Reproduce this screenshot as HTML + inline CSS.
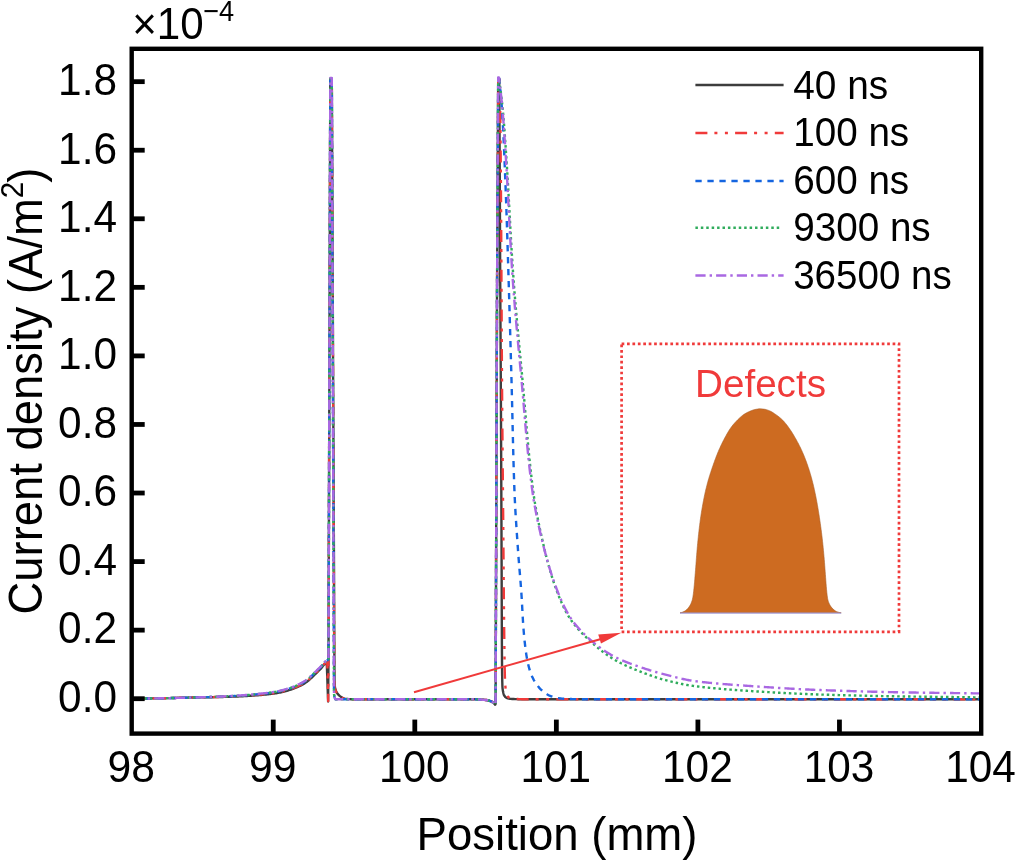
<!DOCTYPE html>
<html lang="en"><head><meta charset="utf-8"><title>Current density vs position</title>
<style>html,body{margin:0;padding:0;background:#fff}svg{display:block;filter:blur(0.45px)}</style></head>
<body>
<svg width="1016" height="862" viewBox="0 0 1016 862" font-family='"Liberation Sans", Arial, Helvetica, sans-serif' fill="#000">
<rect width="1016" height="862" fill="#fff"/>
<defs><clipPath id="pc"><rect x="131.7" y="48.8" width="849.5" height="684.8000000000001"/></clipPath></defs>
<g fill="none" stroke-linejoin="round" clip-path="url(#pc)">
<path d="M133.50,698.60 L134.51,698.59 L135.51,698.59 L136.52,698.58 L137.52,698.57 L138.53,698.57 L139.53,698.56 L140.54,698.55 L141.54,698.54 L142.55,698.53 L143.55,698.52 L144.56,698.51 L145.56,698.50 L146.57,698.49 L147.58,698.47 L148.58,698.46 L149.59,698.45 L150.59,698.44 L151.60,698.42 L152.60,698.41 L153.61,698.39 L154.61,698.38 L155.62,698.37 L156.62,698.35 L157.63,698.34 L158.63,698.32 L159.64,698.31 L160.64,698.29 L161.65,698.27 L162.65,698.25 L163.66,698.23 L164.66,698.21 L165.67,698.19 L166.68,698.17 L167.68,698.14 L168.69,698.12 L169.69,698.09 L170.70,698.06 L171.70,698.04 L172.71,698.01 L173.71,697.98 L174.72,697.95 L175.72,697.92 L176.73,697.89 L177.73,697.86 L178.74,697.83 L179.74,697.81 L180.75,697.78 L181.75,697.75 L182.76,697.72 L183.76,697.69 L184.77,697.67 L185.77,697.64 L186.78,697.61 L187.78,697.59 L188.79,697.57 L189.79,697.54 L190.80,697.52 L191.80,697.50 L192.81,697.49 L193.81,697.47 L194.82,697.45 L195.82,697.43 L196.83,697.42 L197.83,697.40 L198.84,697.39 L199.84,697.38 L200.85,697.36 L201.86,697.35 L202.86,697.33 L203.87,697.32 L204.87,697.31 L205.88,697.29 L206.88,697.28 L207.89,697.26 L208.89,697.25 L209.90,697.23 L210.90,697.21 L211.91,697.19 L212.91,697.18 L213.92,697.16 L214.92,697.13 L215.93,697.11 L216.93,697.09 L217.94,697.07 L218.94,697.05 L219.95,697.02 L220.96,697.00 L221.96,696.97 L222.97,696.95 L223.97,696.92 L224.98,696.90 L225.98,696.87 L226.99,696.84 L227.99,696.81 L229.00,696.78 L230.00,696.74 L231.01,696.71 L232.01,696.68 L233.01,696.64 L234.02,696.61 L235.02,696.57 L236.03,696.53 L237.03,696.48 L238.04,696.44 L239.04,696.39 L240.05,696.34 L241.05,696.29 L242.05,696.24 L243.06,696.18 L244.06,696.13 L245.07,696.07 L246.07,696.01 L247.07,695.95 L248.08,695.89 L249.08,695.82 L250.09,695.76 L251.09,695.69 L252.09,695.62 L253.09,695.55 L254.10,695.48 L255.10,695.41 L256.10,695.34 L257.10,695.26 L258.11,695.18 L259.11,695.10 L260.12,695.02 L261.12,694.94 L262.12,694.85 L263.13,694.76 L264.13,694.67 L265.13,694.57 L266.13,694.47 L267.13,694.37 L268.13,694.26 L269.13,694.15 L270.13,694.03 L271.13,693.91 L272.12,693.79 L273.12,693.66 L274.11,693.53 L275.10,693.39 L276.09,693.23 L277.08,693.06 L278.07,692.87 L279.06,692.67 L280.05,692.46 L281.03,692.24 L282.01,692.01 L282.99,691.77 L283.97,691.53 L284.94,691.29 L285.91,691.03 L286.88,690.77 L287.85,690.49 L288.82,690.20 L289.78,689.90 L290.74,689.59 L291.70,689.27 L292.65,688.94 L293.59,688.59 L294.53,688.24 L295.46,687.88 L296.38,687.50 L297.31,687.10 L298.23,686.69 L299.15,686.26 L300.07,685.82 L300.98,685.36 L301.87,684.88 L302.76,684.40 L303.63,683.89 L304.49,683.38 L305.32,682.85 L306.14,682.30 L306.94,681.73 L307.73,681.12 L308.50,680.49 L309.27,679.84 L310.02,679.17 L310.76,678.48 L311.50,677.79 L312.23,677.08 L312.96,676.37 L313.68,675.65 L314.41,674.94 L315.13,674.23 L315.86,673.53 L316.59,672.84 L317.31,672.14 L318.03,671.44 L318.74,670.73 L319.45,670.01 L320.15,669.29 L320.85,668.57 L321.53,667.83 L322.18,666.99 L322.80,666.12 L323.44,665.29 L324.13,664.58 L324.88,664.05 L325.78,663.72 L326.80,663.50 L328.10,701.50 L328.50,659.00 L330.30,79.50 L331.80,79.50 L334.50,680.00 L334.80,686.00 L334.93,687.12 L335.15,688.20 L335.44,689.24 L335.79,690.24 L336.18,691.19 L336.61,692.11 L337.07,692.98 L337.67,693.85 L338.38,694.68 L339.17,695.45 L340.00,696.13 L340.83,696.72 L341.72,697.29 L342.67,697.83 L343.66,698.30 L344.67,698.64 L345.67,698.82 L346.69,698.93 L347.72,699.02 L348.76,699.09 L349.82,699.15 L350.90,699.19 L352.00,699.20 L352.00,699.20 L353.01,699.20 L354.02,699.20 L355.04,699.20 L356.05,699.20 L357.06,699.20 L358.07,699.20 L359.09,699.20 L360.10,699.20 L361.11,699.20 L362.12,699.20 L363.13,699.20 L364.15,699.20 L365.16,699.20 L366.17,699.20 L367.18,699.20 L368.19,699.20 L369.21,699.20 L370.22,699.20 L371.23,699.20 L372.24,699.20 L373.25,699.20 L374.27,699.20 L375.28,699.20 L376.29,699.20 L377.30,699.20 L378.31,699.20 L379.32,699.20 L380.34,699.20 L381.35,699.20 L382.36,699.20 L383.37,699.20 L384.38,699.20 L385.39,699.20 L386.41,699.20 L387.42,699.20 L388.43,699.20 L389.44,699.20 L390.45,699.20 L391.46,699.20 L392.47,699.20 L393.49,699.20 L394.50,699.20 L395.51,699.20 L396.52,699.20 L397.53,699.20 L398.54,699.20 L399.55,699.20 L400.57,699.20 L401.58,699.20 L402.59,699.20 L403.60,699.20 L404.61,699.20 L405.62,699.20 L406.63,699.20 L407.64,699.20 L408.66,699.20 L409.67,699.20 L410.68,699.20 L411.69,699.20 L412.70,699.20 L413.71,699.20 L414.72,699.20 L415.73,699.20 L416.74,699.20 L417.76,699.20 L418.77,699.20 L419.78,699.20 L420.79,699.20 L421.80,699.20 L422.81,699.20 L423.82,699.20 L424.83,699.20 L425.84,699.20 L426.85,699.20 L427.86,699.20 L428.88,699.20 L429.89,699.20 L430.90,699.20 L431.91,699.20 L432.92,699.20 L433.93,699.20 L434.94,699.20 L435.95,699.20 L436.96,699.20 L437.97,699.20 L438.98,699.20 L439.99,699.20 L441.01,699.20 L442.02,699.20 L443.03,699.20 L444.04,699.20 L445.05,699.20 L446.06,699.20 L447.07,699.20 L448.08,699.20 L449.09,699.20 L450.10,699.20 L451.11,699.20 L452.12,699.20 L453.13,699.20 L454.14,699.20 L455.15,699.20 L456.16,699.20 L457.17,699.20 L458.19,699.20 L459.20,699.20 L460.21,699.20 L461.22,699.20 L462.23,699.20 L463.24,699.20 L464.25,699.20 L465.26,699.20 L466.27,699.20 L467.28,699.20 L468.29,699.20 L469.30,699.20 L470.31,699.20 L471.32,699.21 L472.34,699.22 L473.35,699.24 L474.37,699.26 L475.39,699.30 L476.41,699.33 L477.43,699.38 L478.44,699.43 L479.46,699.49 L480.47,699.55 L481.48,699.62 L482.48,699.69 L483.48,699.77 L484.48,699.86 L485.47,699.95 L486.46,700.05 L487.47,700.23 L488.48,700.47 L489.48,700.77 L490.45,701.12 L491.37,701.50 L492.23,701.92 L493.03,702.46 L493.80,703.12 L494.52,703.88 L495.20,704.70 L495.60,704.00 L497.00,300.00 L498.20,79.00 L499.20,80.00 L499.21,81.00 L499.21,82.01 L499.22,83.01 L499.23,84.01 L499.24,85.01 L499.24,86.02 L499.25,87.02 L499.26,88.02 L499.26,89.02 L499.27,90.03 L499.28,91.03 L499.28,92.03 L499.29,93.03 L499.30,94.04 L499.30,95.04 L499.31,96.04 L499.32,97.04 L499.32,98.05 L499.33,99.05 L499.34,100.05 L499.35,101.05 L499.35,102.06 L499.36,103.06 L499.37,104.06 L499.37,105.06 L499.38,106.07 L499.39,107.07 L499.39,108.07 L499.40,109.07 L499.40,110.08 L499.41,111.08 L499.42,112.08 L499.42,113.08 L499.43,114.09 L499.44,115.09 L499.44,116.09 L499.45,117.09 L499.46,118.10 L499.46,119.10 L499.47,120.10 L499.48,121.10 L499.48,122.11 L499.49,123.11 L499.49,124.11 L499.50,125.11 L499.51,126.12 L499.51,127.12 L499.52,128.12 L499.53,129.12 L499.53,130.13 L499.54,131.13 L499.54,132.13 L499.55,133.13 L499.56,134.14 L499.56,135.14 L499.57,136.14 L499.57,137.14 L499.58,138.15 L499.59,139.15 L499.59,140.15 L499.60,141.15 L499.60,142.16 L499.61,143.16 L499.61,144.16 L499.62,145.16 L499.63,146.17 L499.63,147.17 L499.64,148.17 L499.64,149.17 L499.65,150.18 L499.65,151.18 L499.66,152.18 L499.66,153.18 L499.67,154.19 L499.67,155.19 L499.68,156.19 L499.69,157.19 L499.69,158.20 L499.70,159.20 L499.70,160.20 L499.71,161.20 L499.71,162.21 L499.72,163.21 L499.72,164.21 L499.73,165.21 L499.73,166.22 L499.74,167.22 L499.74,168.22 L499.75,169.22 L499.75,170.23 L499.76,171.23 L499.76,172.23 L499.77,173.23 L499.77,174.24 L499.77,175.24 L499.78,176.24 L499.78,177.24 L499.79,178.25 L499.79,179.25 L499.80,180.25 L499.80,181.25 L499.81,182.26 L499.81,183.26 L499.82,184.26 L499.82,185.26 L499.82,186.27 L499.83,187.27 L499.83,188.27 L499.84,189.27 L499.84,190.28 L499.85,191.28 L499.85,192.28 L499.85,193.28 L499.86,194.29 L499.86,195.29 L499.87,196.29 L499.87,197.29 L499.87,198.30 L499.88,199.30 L499.88,200.30 L499.89,201.30 L499.89,202.31 L499.90,203.31 L499.90,204.31 L499.90,205.31 L499.91,206.32 L499.91,207.32 L499.92,208.32 L499.92,209.32 L499.92,210.33 L499.93,211.33 L499.93,212.33 L499.94,213.33 L499.94,214.34 L499.94,215.34 L499.95,216.34 L499.95,217.34 L499.96,218.35 L499.96,219.35 L499.96,220.35 L499.97,221.35 L499.97,222.36 L499.98,223.36 L499.98,224.36 L499.98,225.36 L499.99,226.37 L499.99,227.37 L500.00,228.37 L500.00,229.37 L500.00,230.38 L500.01,231.38 L500.01,232.38 L500.01,233.39 L500.02,234.39 L500.02,235.39 L500.03,236.39 L500.03,237.40 L500.04,238.40 L500.04,239.40 L500.04,240.40 L500.05,241.41 L500.05,242.41 L500.06,243.41 L500.06,244.41 L500.06,245.42 L500.07,246.42 L500.07,247.42 L500.08,248.42 L500.08,249.43 L500.08,250.43 L500.09,251.43 L500.09,252.43 L500.10,253.44 L500.10,254.44 L500.11,255.44 L500.11,256.44 L500.11,257.45 L500.12,258.45 L500.12,259.45 L500.13,260.45 L500.13,261.46 L500.14,262.46 L500.14,263.46 L500.15,264.46 L500.15,265.47 L500.15,266.47 L500.16,267.47 L500.16,268.47 L500.17,269.48 L500.17,270.48 L500.18,271.48 L500.18,272.48 L500.19,273.49 L500.19,274.49 L500.20,275.49 L500.20,276.49 L500.21,277.50 L500.21,278.50 L500.22,279.50 L500.22,280.50 L500.23,281.51 L500.23,282.51 L500.24,283.51 L500.24,284.51 L500.25,285.52 L500.25,286.52 L500.26,287.52 L500.26,288.52 L500.27,289.53 L500.27,290.53 L500.28,291.53 L500.29,292.53 L500.29,293.54 L500.30,294.54 L500.30,295.54 L500.31,296.54 L500.31,297.55 L500.32,298.55 L500.32,299.55 L500.33,300.55 L500.33,301.56 L500.34,302.56 L500.35,303.56 L500.35,304.56 L500.36,305.57 L500.36,306.57 L500.37,307.57 L500.37,308.57 L500.38,309.58 L500.39,310.58 L500.39,311.58 L500.40,312.58 L500.40,313.59 L500.41,314.59 L500.42,315.59 L500.42,316.59 L500.43,317.60 L500.43,318.60 L500.44,319.60 L500.44,320.60 L500.45,321.61 L500.46,322.61 L500.46,323.61 L500.47,324.61 L500.47,325.62 L500.48,326.62 L500.49,327.62 L500.49,328.62 L500.50,329.63 L500.50,330.63 L500.51,331.63 L500.52,332.63 L500.52,333.64 L500.53,334.64 L500.53,335.64 L500.54,336.64 L500.55,337.65 L500.55,338.65 L500.56,339.65 L500.56,340.65 L500.57,341.66 L500.58,342.66 L500.58,343.66 L500.59,344.66 L500.59,345.67 L500.60,346.67 L500.61,347.67 L500.61,348.67 L500.62,349.68 L500.62,350.68 L500.63,351.68 L500.64,352.68 L500.64,353.69 L500.65,354.69 L500.65,355.69 L500.66,356.69 L500.67,357.70 L500.67,358.70 L500.68,359.70 L500.68,360.70 L500.69,361.71 L500.70,362.71 L500.70,363.71 L500.71,364.71 L500.71,365.72 L500.72,366.72 L500.73,367.72 L500.73,368.72 L500.74,369.73 L500.74,370.73 L500.75,371.73 L500.75,372.74 L500.76,373.74 L500.77,374.74 L500.77,375.74 L500.78,376.75 L500.78,377.75 L500.79,378.75 L500.79,379.75 L500.80,380.76 L500.80,381.76 L500.81,382.76 L500.82,383.76 L500.82,384.77 L500.83,385.77 L500.83,386.77 L500.84,387.77 L500.84,388.78 L500.85,389.78 L500.85,390.78 L500.86,391.78 L500.86,392.79 L500.87,393.79 L500.87,394.79 L500.88,395.79 L500.88,396.80 L500.89,397.80 L500.89,398.80 L500.90,399.80 L500.90,400.81 L500.91,401.81 L500.91,402.81 L500.92,403.81 L500.92,404.82 L500.93,405.82 L500.93,406.82 L500.94,407.82 L500.94,408.83 L500.95,409.83 L500.95,410.83 L500.96,411.83 L500.96,412.84 L500.97,413.84 L500.97,414.84 L500.98,415.84 L500.98,416.85 L500.99,417.85 L500.99,418.85 L501.00,419.85 L501.00,420.86 L501.01,421.86 L501.01,422.86 L501.02,423.86 L501.02,424.87 L501.02,425.87 L501.03,426.87 L501.03,427.87 L501.04,428.88 L501.04,429.88 L501.05,430.88 L501.05,431.88 L501.06,432.89 L501.06,433.89 L501.07,434.89 L501.07,435.89 L501.08,436.90 L501.08,437.90 L501.08,438.90 L501.09,439.90 L501.09,440.91 L501.10,441.91 L501.10,442.91 L501.11,443.91 L501.11,444.92 L501.12,445.92 L501.12,446.92 L501.13,447.92 L501.13,448.93 L501.13,449.93 L501.14,450.93 L501.14,451.93 L501.15,452.94 L501.15,453.94 L501.16,454.94 L501.16,455.94 L501.17,456.95 L501.17,457.95 L501.17,458.95 L501.18,459.95 L501.18,460.96 L501.19,461.96 L501.19,462.96 L501.20,463.96 L501.20,464.97 L501.21,465.97 L501.21,466.97 L501.21,467.97 L501.22,468.98 L501.22,469.98 L501.23,470.98 L501.23,471.98 L501.24,472.99 L501.24,473.99 L501.24,474.99 L501.25,475.99 L501.25,477.00 L501.26,478.00 L501.26,479.00 L501.27,480.00 L501.27,481.01 L501.27,482.01 L501.28,483.01 L501.28,484.01 L501.29,485.02 L501.29,486.02 L501.30,487.02 L501.30,488.02 L501.30,489.03 L501.31,490.03 L501.31,491.03 L501.32,492.03 L501.32,493.04 L501.33,494.04 L501.33,495.04 L501.33,496.04 L501.34,497.05 L501.34,498.05 L501.35,499.05 L501.35,500.06 L501.36,501.06 L501.36,502.06 L501.36,503.06 L501.37,504.07 L501.37,505.07 L501.38,506.07 L501.38,507.07 L501.38,508.08 L501.39,509.08 L501.39,510.08 L501.40,511.08 L501.40,512.09 L501.41,513.09 L501.41,514.09 L501.41,515.09 L501.42,516.10 L501.42,517.10 L501.43,518.10 L501.43,519.10 L501.43,520.11 L501.44,521.11 L501.44,522.11 L501.45,523.11 L501.45,524.12 L501.46,525.12 L501.46,526.12 L501.46,527.12 L501.47,528.13 L501.47,529.13 L501.48,530.13 L501.48,531.13 L501.48,532.14 L501.49,533.14 L501.49,534.14 L501.50,535.14 L501.50,536.15 L501.51,537.15 L501.51,538.15 L501.51,539.15 L501.52,540.16 L501.52,541.16 L501.53,542.16 L501.53,543.16 L501.53,544.17 L501.54,545.17 L501.54,546.17 L501.55,547.17 L501.55,548.18 L501.56,549.18 L501.56,550.18 L501.56,551.18 L501.57,552.19 L501.57,553.19 L501.58,554.19 L501.58,555.19 L501.58,556.20 L501.59,557.20 L501.59,558.20 L501.60,559.20 L501.60,560.21 L501.60,561.21 L501.61,562.21 L501.61,563.21 L501.62,564.22 L501.62,565.22 L501.62,566.22 L501.63,567.22 L501.63,568.23 L501.64,569.23 L501.64,570.23 L501.64,571.23 L501.65,572.24 L501.65,573.24 L501.65,574.24 L501.66,575.24 L501.66,576.25 L501.66,577.25 L501.67,578.25 L501.67,579.25 L501.67,580.26 L501.68,581.26 L501.68,582.26 L501.68,583.26 L501.69,584.27 L501.69,585.27 L501.69,586.27 L501.69,587.27 L501.70,588.28 L501.70,589.28 L501.70,590.28 L501.71,591.29 L501.71,592.29 L501.71,593.29 L501.72,594.29 L501.72,595.30 L501.72,596.30 L501.72,597.30 L501.73,598.30 L501.73,599.31 L501.73,600.31 L501.74,601.31 L501.74,602.31 L501.74,603.32 L501.74,604.32 L501.75,605.32 L501.75,606.32 L501.75,607.33 L501.76,608.33 L501.76,609.33 L501.76,610.33 L501.77,611.34 L501.77,612.34 L501.77,613.34 L501.78,614.34 L501.78,615.35 L501.78,616.35 L501.79,617.35 L501.79,618.35 L501.79,619.36 L501.80,620.36 L501.80,621.36 L501.80,622.36 L501.81,623.37 L501.81,624.37 L501.82,625.37 L501.82,626.37 L501.82,627.38 L501.83,628.38 L501.83,629.38 L501.84,630.38 L501.84,631.39 L501.84,632.39 L501.85,633.39 L501.85,634.39 L501.86,635.40 L501.86,636.40 L501.87,637.40 L501.87,638.40 L501.88,639.41 L501.88,640.41 L501.89,641.41 L501.89,642.41 L501.90,643.42 L501.90,644.42 L501.91,645.42 L501.91,646.42 L501.92,647.43 L501.93,648.43 L501.93,649.43 L501.94,650.43 L501.94,651.44 L501.95,652.44 L501.96,653.44 L501.96,654.44 L501.97,655.45 L501.98,656.45 L501.98,657.45 L501.99,658.45 L502.00,659.46 L502.00,660.46 L502.01,661.46 L502.02,662.47 L502.03,663.47 L502.03,664.47 L502.04,665.48 L502.05,666.48 L502.06,667.49 L502.07,668.49 L502.08,669.49 L502.09,670.50 L502.10,671.50 L502.11,672.51 L502.12,673.51 L502.14,674.52 L502.15,675.52 L502.17,676.52 L502.19,677.52 L502.21,678.53 L502.23,679.53 L502.25,680.53 L502.27,681.53 L502.30,682.53 L502.33,683.53 L502.35,684.53 L502.38,685.52 L502.42,686.52 L502.49,687.53 L502.58,688.55 L502.71,689.58 L502.86,690.59 L503.04,691.59 L503.24,692.56 L503.47,693.50 L503.73,694.42 L504.16,695.39 L504.74,696.34 L505.40,697.13 L506.10,697.65 L506.91,698.02 L507.87,698.34 L508.90,698.60 L509.96,698.79 L510.98,698.90 L511.97,698.96 L512.96,699.01 L513.95,699.06 L514.95,699.10 L515.95,699.14 L516.96,699.16 L517.97,699.18 L518.98,699.20 L520.00,699.20 L979.00,699.20" stroke="#3d3d3d" stroke-width="2.4"/>
<path d="M133.50,698.60 L134.51,698.59 L135.52,698.59 L136.53,698.58 L137.54,698.57 L138.55,698.57 L139.56,698.56 L140.57,698.55 L141.58,698.54 L142.59,698.53 L143.60,698.52 L144.61,698.51 L145.62,698.50 L146.63,698.49 L147.63,698.47 L148.64,698.46 L149.65,698.45 L150.66,698.43 L151.67,698.42 L152.68,698.41 L153.69,698.39 L154.70,698.38 L155.71,698.36 L156.72,698.35 L157.73,698.33 L158.74,698.32 L159.75,698.30 L160.76,698.29 L161.77,698.27 L162.78,698.25 L163.79,698.23 L164.80,698.21 L165.81,698.19 L166.81,698.17 L167.82,698.14 L168.83,698.12 L169.84,698.09 L170.85,698.07 L171.86,698.04 L172.87,698.01 L173.88,697.99 L174.89,697.96 L175.90,697.93 L176.91,697.90 L177.92,697.87 L178.93,697.84 L179.94,697.81 L180.95,697.79 L181.95,697.76 L182.96,697.73 L183.97,697.70 L184.98,697.67 L185.99,697.65 L187.00,697.62 L188.01,697.59 L189.02,697.57 L190.03,697.54 L191.04,697.52 L192.05,697.50 L193.06,697.48 L194.07,697.46 L195.08,697.44 L196.09,697.42 L197.09,697.40 L198.10,697.38 L199.11,697.36 L200.12,697.34 L201.13,697.32 L202.14,697.31 L203.15,697.29 L204.16,697.27 L205.17,697.25 L206.18,697.23 L207.19,697.21 L208.20,697.19 L209.21,697.17 L210.22,697.15 L211.23,697.13 L212.24,697.10 L213.25,697.08 L214.26,697.05 L215.26,697.02 L216.27,697.00 L217.28,696.97 L218.29,696.94 L219.30,696.91 L220.31,696.88 L221.32,696.85 L222.33,696.82 L223.34,696.78 L224.35,696.75 L225.36,696.71 L226.37,696.68 L227.38,696.64 L228.38,696.60 L229.39,696.56 L230.40,696.52 L231.41,696.48 L232.42,696.44 L233.43,696.39 L234.44,696.35 L235.44,696.30 L236.45,696.25 L237.46,696.20 L238.47,696.15 L239.48,696.09 L240.49,696.04 L241.49,695.98 L242.50,695.92 L243.51,695.85 L244.52,695.79 L245.53,695.72 L246.53,695.66 L247.54,695.59 L248.55,695.52 L249.56,695.45 L250.56,695.37 L251.57,695.30 L252.58,695.22 L253.58,695.14 L254.59,695.06 L255.59,694.98 L256.60,694.90 L257.61,694.82 L258.62,694.73 L259.62,694.64 L260.63,694.55 L261.64,694.46 L262.64,694.36 L263.65,694.27 L264.66,694.16 L265.66,694.06 L266.67,693.95 L267.67,693.84 L268.68,693.72 L269.68,693.60 L270.68,693.47 L271.68,693.34 L272.68,693.21 L273.67,693.07 L274.67,692.93 L275.66,692.77 L276.66,692.60 L277.65,692.41 L278.64,692.21 L279.63,691.99 L280.62,691.77 L281.60,691.54 L282.58,691.30 L283.56,691.05 L284.54,690.80 L285.51,690.54 L286.48,690.27 L287.46,689.99 L288.43,689.70 L289.39,689.40 L290.36,689.08 L291.32,688.76 L292.27,688.42 L293.22,688.08 L294.17,687.72 L295.10,687.35 L296.03,686.97 L296.96,686.58 L297.88,686.17 L298.81,685.74 L299.73,685.30 L300.64,684.84 L301.54,684.37 L302.44,683.88 L303.32,683.38 L304.18,682.87 L305.03,682.34 L305.85,681.80 L306.66,681.23 L307.46,680.63 L308.24,680.00 L309.01,679.36 L309.77,678.69 L310.52,678.01 L311.26,677.31 L312.00,676.60 L312.73,675.89 L313.46,675.17 L314.19,674.46 L314.91,673.75 L315.64,673.04 L316.37,672.34 L317.10,671.64 L317.82,670.94 L318.54,670.23 L319.25,669.51 L319.96,668.79 L320.66,668.06 L321.36,667.33 L322.02,666.56 L322.67,665.76 L323.32,664.96 L323.99,664.21 L324.71,663.53 L325.50,662.95 L326.37,662.45 L327.30,662.00 L328.20,701.00 L328.50,659.00 L330.30,79.00 L331.80,79.00 L334.30,680.00 L334.60,686.00 L334.72,687.13 L334.93,688.23 L335.22,689.28 L335.56,690.29 L335.94,691.27 L336.36,692.20 L336.82,693.10 L337.43,694.00 L338.15,694.85 L338.94,695.64 L339.75,696.32 L340.60,696.91 L341.52,697.48 L342.50,698.01 L343.52,698.44 L344.55,698.73 L345.57,698.86 L346.60,698.96 L347.65,699.04 L348.71,699.11 L349.79,699.16 L350.89,699.19 L352.00,699.20 L352.00,699.20 L353.01,699.20 L354.02,699.20 L355.04,699.20 L356.05,699.20 L357.06,699.20 L358.07,699.20 L359.09,699.20 L360.10,699.20 L361.11,699.20 L362.12,699.20 L363.13,699.20 L364.15,699.20 L365.16,699.20 L366.17,699.20 L367.18,699.20 L368.19,699.20 L369.21,699.20 L370.22,699.20 L371.23,699.20 L372.24,699.20 L373.25,699.20 L374.27,699.20 L375.28,699.20 L376.29,699.20 L377.30,699.20 L378.31,699.20 L379.32,699.20 L380.34,699.20 L381.35,699.20 L382.36,699.20 L383.37,699.20 L384.38,699.20 L385.39,699.20 L386.41,699.20 L387.42,699.20 L388.43,699.20 L389.44,699.20 L390.45,699.20 L391.46,699.20 L392.47,699.20 L393.49,699.20 L394.50,699.20 L395.51,699.20 L396.52,699.20 L397.53,699.20 L398.54,699.20 L399.55,699.20 L400.57,699.20 L401.58,699.20 L402.59,699.20 L403.60,699.20 L404.61,699.20 L405.62,699.20 L406.63,699.20 L407.64,699.20 L408.66,699.20 L409.67,699.20 L410.68,699.20 L411.69,699.20 L412.70,699.20 L413.71,699.20 L414.72,699.20 L415.73,699.20 L416.74,699.20 L417.76,699.20 L418.77,699.20 L419.78,699.20 L420.79,699.20 L421.80,699.20 L422.81,699.20 L423.82,699.20 L424.83,699.20 L425.84,699.20 L426.85,699.20 L427.86,699.20 L428.88,699.20 L429.89,699.20 L430.90,699.20 L431.91,699.20 L432.92,699.20 L433.93,699.20 L434.94,699.20 L435.95,699.20 L436.96,699.20 L437.97,699.20 L438.98,699.20 L439.99,699.20 L441.01,699.20 L442.02,699.20 L443.03,699.20 L444.04,699.20 L445.05,699.20 L446.06,699.20 L447.07,699.20 L448.08,699.20 L449.09,699.20 L450.10,699.20 L451.11,699.20 L452.12,699.20 L453.13,699.20 L454.14,699.20 L455.15,699.20 L456.16,699.20 L457.17,699.20 L458.19,699.20 L459.20,699.20 L460.21,699.20 L461.22,699.20 L462.23,699.20 L463.24,699.20 L464.25,699.20 L465.26,699.20 L466.27,699.20 L467.28,699.20 L468.29,699.20 L469.30,699.20 L470.31,699.20 L471.32,699.21 L472.34,699.22 L473.35,699.24 L474.37,699.26 L475.39,699.30 L476.41,699.33 L477.43,699.38 L478.44,699.43 L479.46,699.49 L480.47,699.55 L481.48,699.62 L482.48,699.69 L483.48,699.77 L484.48,699.86 L485.47,699.95 L486.46,700.05 L487.47,700.23 L488.48,700.47 L489.48,700.77 L490.45,701.12 L491.37,701.50 L492.23,701.92 L493.03,702.46 L493.80,703.12 L494.52,703.88 L495.20,704.70 L495.60,704.00 L497.00,300.00 L498.20,78.50 L499.50,79.00 L499.53,80.00 L499.55,81.00 L499.58,82.01 L499.61,83.01 L499.63,84.01 L499.66,85.01 L499.68,86.02 L499.71,87.02 L499.74,88.02 L499.76,89.02 L499.79,90.03 L499.81,91.03 L499.84,92.03 L499.86,93.03 L499.89,94.03 L499.91,95.04 L499.93,96.04 L499.96,97.04 L499.98,98.04 L500.00,99.05 L500.02,100.05 L500.04,101.05 L500.06,102.05 L500.08,103.06 L500.10,104.06 L500.12,105.06 L500.14,106.06 L500.16,107.07 L500.17,108.07 L500.19,109.07 L500.20,110.07 L500.21,111.08 L500.23,112.08 L500.24,113.08 L500.25,114.08 L500.27,115.09 L500.28,116.09 L500.29,117.09 L500.31,118.09 L500.32,119.10 L500.33,120.10 L500.34,121.10 L500.35,122.10 L500.37,123.11 L500.38,124.11 L500.39,125.11 L500.40,126.11 L500.41,127.12 L500.42,128.12 L500.43,129.12 L500.44,130.12 L500.45,131.13 L500.47,132.13 L500.48,133.13 L500.49,134.13 L500.50,135.14 L500.51,136.14 L500.52,137.14 L500.53,138.14 L500.54,139.15 L500.55,140.15 L500.55,141.15 L500.56,142.15 L500.57,143.16 L500.58,144.16 L500.59,145.16 L500.60,146.16 L500.61,147.17 L500.62,148.17 L500.63,149.17 L500.64,150.17 L500.64,151.18 L500.65,152.18 L500.66,153.18 L500.67,154.19 L500.68,155.19 L500.69,156.19 L500.69,157.19 L500.70,158.20 L500.71,159.20 L500.72,160.20 L500.72,161.20 L500.73,162.21 L500.74,163.21 L500.75,164.21 L500.76,165.21 L500.76,166.22 L500.77,167.22 L500.78,168.22 L500.78,169.22 L500.79,170.23 L500.80,171.23 L500.81,172.23 L500.81,173.23 L500.82,174.24 L500.83,175.24 L500.84,176.24 L500.84,177.25 L500.85,178.25 L500.86,179.25 L500.86,180.25 L500.87,181.26 L500.88,182.26 L500.88,183.26 L500.89,184.26 L500.90,185.27 L500.90,186.27 L500.91,187.27 L500.92,188.27 L500.93,189.28 L500.93,190.28 L500.94,191.28 L500.95,192.28 L500.95,193.29 L500.96,194.29 L500.97,195.29 L500.97,196.30 L500.98,197.30 L500.99,198.30 L501.00,199.30 L501.00,200.31 L501.01,201.31 L501.02,202.31 L501.02,203.31 L501.03,204.32 L501.04,205.32 L501.04,206.32 L501.05,207.32 L501.06,208.33 L501.06,209.33 L501.07,210.33 L501.08,211.33 L501.08,212.34 L501.09,213.34 L501.10,214.34 L501.10,215.34 L501.11,216.35 L501.12,217.35 L501.12,218.35 L501.13,219.35 L501.13,220.36 L501.14,221.36 L501.15,222.36 L501.15,223.37 L501.16,224.37 L501.16,225.37 L501.17,226.37 L501.18,227.38 L501.18,228.38 L501.19,229.38 L501.19,230.38 L501.20,231.39 L501.21,232.39 L501.21,233.39 L501.22,234.39 L501.22,235.40 L501.23,236.40 L501.23,237.40 L501.24,238.40 L501.25,239.41 L501.25,240.41 L501.26,241.41 L501.26,242.41 L501.27,243.42 L501.27,244.42 L501.28,245.42 L501.28,246.43 L501.29,247.43 L501.30,248.43 L501.30,249.43 L501.31,250.44 L501.31,251.44 L501.32,252.44 L501.32,253.44 L501.33,254.45 L501.33,255.45 L501.34,256.45 L501.34,257.45 L501.35,258.46 L501.35,259.46 L501.36,260.46 L501.36,261.46 L501.37,262.47 L501.37,263.47 L501.38,264.47 L501.38,265.47 L501.39,266.48 L501.39,267.48 L501.40,268.48 L501.40,269.48 L501.41,270.49 L501.41,271.49 L501.42,272.49 L501.42,273.50 L501.43,274.50 L501.43,275.50 L501.44,276.50 L501.44,277.51 L501.45,278.51 L501.45,279.51 L501.46,280.51 L501.46,281.52 L501.47,282.52 L501.47,283.52 L501.48,284.52 L501.48,285.53 L501.49,286.53 L501.49,287.53 L501.50,288.53 L501.50,289.54 L501.51,290.54 L501.51,291.54 L501.52,292.55 L501.52,293.55 L501.53,294.55 L501.53,295.55 L501.54,296.56 L501.54,297.56 L501.55,298.56 L501.55,299.56 L501.56,300.57 L501.56,301.57 L501.57,302.57 L501.57,303.57 L501.58,304.58 L501.58,305.58 L501.59,306.58 L501.59,307.58 L501.60,308.59 L501.60,309.59 L501.61,310.59 L501.61,311.59 L501.62,312.60 L501.62,313.60 L501.63,314.60 L501.63,315.61 L501.64,316.61 L501.64,317.61 L501.65,318.61 L501.65,319.62 L501.66,320.62 L501.66,321.62 L501.67,322.62 L501.67,323.63 L501.68,324.63 L501.68,325.63 L501.69,326.63 L501.69,327.64 L501.70,328.64 L501.70,329.64 L501.71,330.64 L501.71,331.65 L501.72,332.65 L501.72,333.65 L501.73,334.65 L501.73,335.66 L501.74,336.66 L501.75,337.66 L501.75,338.66 L501.76,339.67 L501.76,340.67 L501.77,341.67 L501.77,342.68 L501.78,343.68 L501.78,344.68 L501.79,345.68 L501.79,346.69 L501.80,347.69 L501.81,348.69 L501.81,349.69 L501.82,350.70 L501.82,351.70 L501.83,352.70 L501.83,353.70 L501.84,354.71 L501.85,355.71 L501.85,356.71 L501.86,357.71 L501.86,358.72 L501.87,359.72 L501.88,360.72 L501.88,361.72 L501.89,362.73 L501.89,363.73 L501.90,364.73 L501.91,365.74 L501.91,366.74 L501.92,367.74 L501.93,368.74 L501.93,369.75 L501.94,370.75 L501.95,371.75 L501.95,372.75 L501.96,373.76 L501.96,374.76 L501.97,375.76 L501.98,376.76 L501.98,377.77 L501.99,378.77 L502.00,379.77 L502.01,380.77 L502.01,381.78 L502.02,382.78 L502.03,383.78 L502.03,384.78 L502.04,385.79 L502.05,386.79 L502.05,387.79 L502.06,388.79 L502.07,389.80 L502.08,390.80 L502.08,391.80 L502.09,392.81 L502.10,393.81 L502.11,394.81 L502.11,395.81 L502.12,396.82 L502.13,397.82 L502.14,398.82 L502.14,399.82 L502.15,400.83 L502.16,401.83 L502.17,402.83 L502.17,403.83 L502.18,404.84 L502.19,405.84 L502.20,406.84 L502.21,407.84 L502.21,408.85 L502.22,409.85 L502.23,410.85 L502.24,411.85 L502.25,412.86 L502.25,413.86 L502.26,414.86 L502.27,415.86 L502.28,416.87 L502.29,417.87 L502.30,418.87 L502.30,419.88 L502.31,420.88 L502.32,421.88 L502.33,422.88 L502.34,423.89 L502.35,424.89 L502.35,425.89 L502.36,426.89 L502.37,427.90 L502.38,428.90 L502.39,429.90 L502.40,430.90 L502.40,431.91 L502.41,432.91 L502.42,433.91 L502.43,434.91 L502.44,435.92 L502.45,436.92 L502.46,437.92 L502.47,438.92 L502.47,439.93 L502.48,440.93 L502.49,441.93 L502.50,442.93 L502.51,443.94 L502.52,444.94 L502.53,445.94 L502.54,446.94 L502.55,447.95 L502.55,448.95 L502.56,449.95 L502.57,450.96 L502.58,451.96 L502.59,452.96 L502.60,453.96 L502.61,454.97 L502.62,455.97 L502.63,456.97 L502.64,457.97 L502.64,458.98 L502.65,459.98 L502.66,460.98 L502.67,461.98 L502.68,462.99 L502.69,463.99 L502.70,464.99 L502.71,465.99 L502.72,467.00 L502.73,468.00 L502.74,469.00 L502.75,470.00 L502.75,471.01 L502.76,472.01 L502.77,473.01 L502.78,474.01 L502.79,475.02 L502.80,476.02 L502.81,477.02 L502.82,478.02 L502.83,479.03 L502.84,480.03 L502.85,481.03 L502.86,482.04 L502.86,483.04 L502.87,484.04 L502.88,485.04 L502.89,486.05 L502.90,487.05 L502.91,488.05 L502.92,489.05 L502.93,490.06 L502.94,491.06 L502.95,492.06 L502.96,493.06 L502.97,494.07 L502.97,495.07 L502.98,496.07 L502.99,497.07 L503.00,498.08 L503.01,499.08 L503.02,500.08 L503.03,501.08 L503.04,502.09 L503.05,503.09 L503.06,504.09 L503.07,505.09 L503.08,506.10 L503.08,507.10 L503.09,508.10 L503.10,509.10 L503.11,510.11 L503.12,511.11 L503.13,512.11 L503.14,513.12 L503.15,514.12 L503.16,515.12 L503.17,516.12 L503.17,517.13 L503.18,518.13 L503.19,519.13 L503.20,520.13 L503.21,521.14 L503.22,522.14 L503.23,523.14 L503.24,524.14 L503.25,525.15 L503.25,526.15 L503.26,527.15 L503.27,528.15 L503.28,529.16 L503.29,530.16 L503.30,531.16 L503.30,532.16 L503.31,533.17 L503.32,534.17 L503.33,535.17 L503.34,536.17 L503.35,537.18 L503.35,538.18 L503.36,539.18 L503.37,540.18 L503.38,541.19 L503.39,542.19 L503.40,543.19 L503.40,544.20 L503.41,545.20 L503.42,546.20 L503.43,547.20 L503.44,548.21 L503.44,549.21 L503.45,550.21 L503.46,551.21 L503.47,552.22 L503.48,553.22 L503.48,554.22 L503.49,555.22 L503.50,556.23 L503.51,557.23 L503.52,558.23 L503.52,559.23 L503.53,560.24 L503.54,561.24 L503.55,562.24 L503.56,563.24 L503.56,564.25 L503.57,565.25 L503.58,566.25 L503.59,567.26 L503.60,568.26 L503.60,569.26 L503.61,570.26 L503.62,571.27 L503.63,572.27 L503.64,573.27 L503.65,574.27 L503.65,575.28 L503.66,576.28 L503.67,577.28 L503.68,578.28 L503.69,579.29 L503.70,580.29 L503.70,581.29 L503.71,582.29 L503.72,583.30 L503.73,584.30 L503.74,585.30 L503.75,586.30 L503.75,587.31 L503.76,588.31 L503.77,589.31 L503.78,590.31 L503.79,591.32 L503.80,592.32 L503.81,593.32 L503.82,594.33 L503.83,595.33 L503.83,596.33 L503.84,597.33 L503.85,598.34 L503.86,599.34 L503.87,600.34 L503.88,601.34 L503.89,602.35 L503.90,603.35 L503.91,604.35 L503.92,605.35 L503.93,606.36 L503.94,607.36 L503.95,608.36 L503.96,609.36 L503.97,610.37 L503.98,611.37 L503.99,612.37 L504.00,613.37 L504.01,614.38 L504.02,615.38 L504.03,616.38 L504.04,617.38 L504.05,618.39 L504.06,619.39 L504.07,620.39 L504.08,621.39 L504.09,622.40 L504.10,623.40 L504.11,624.40 L504.13,625.40 L504.14,626.41 L504.15,627.41 L504.16,628.41 L504.17,629.41 L504.18,630.42 L504.20,631.42 L504.21,632.42 L504.22,633.42 L504.23,634.43 L504.24,635.43 L504.26,636.43 L504.27,637.43 L504.28,638.44 L504.29,639.44 L504.31,640.44 L504.32,641.45 L504.33,642.45 L504.34,643.45 L504.35,644.45 L504.37,645.46 L504.38,646.46 L504.39,647.46 L504.40,648.47 L504.41,649.47 L504.42,650.47 L504.43,651.48 L504.45,652.48 L504.46,653.48 L504.47,654.49 L504.48,655.49 L504.50,656.49 L504.51,657.50 L504.52,658.50 L504.54,659.50 L504.55,660.51 L504.57,661.51 L504.58,662.51 L504.60,663.51 L504.62,664.52 L504.64,665.52 L504.65,666.52 L504.67,667.52 L504.69,668.53 L504.71,669.53 L504.74,670.53 L504.76,671.53 L504.78,672.53 L504.81,673.54 L504.84,674.54 L504.86,675.54 L504.89,676.54 L504.92,677.54 L504.95,678.54 L504.98,679.54 L505.02,680.54 L505.06,681.55 L505.11,682.56 L505.17,683.58 L505.24,684.59 L505.32,685.61 L505.41,686.62 L505.51,687.63 L505.62,688.63 L505.75,689.62 L505.89,690.60 L506.04,691.56 L506.20,692.51 L506.44,693.51 L506.79,694.56 L507.24,695.57 L507.75,696.46 L508.33,697.15 L508.99,697.62 L509.87,698.04 L510.89,698.40 L511.95,698.66 L512.98,698.80 L513.95,698.86 L514.93,698.92 L515.91,698.98 L516.90,699.02 L517.89,699.07 L518.89,699.10 L519.89,699.13 L520.90,699.16 L521.92,699.18 L522.94,699.19 L523.97,699.20 L525.00,699.20 L979.00,699.20" stroke="#f03a3a" stroke-width="2.4" stroke-dasharray="12 7 3 7.5 3 7.2"/>
<path d="M133.50,698.60 L134.51,698.59 L135.52,698.59 L136.53,698.58 L137.53,698.57 L138.54,698.57 L139.55,698.56 L140.56,698.55 L141.57,698.54 L142.58,698.53 L143.59,698.52 L144.59,698.51 L145.60,698.50 L146.61,698.49 L147.62,698.47 L148.63,698.46 L149.64,698.45 L150.65,698.44 L151.65,698.42 L152.66,698.41 L153.67,698.39 L154.68,698.38 L155.69,698.36 L156.70,698.35 L157.70,698.33 L158.71,698.32 L159.72,698.30 L160.73,698.29 L161.74,698.27 L162.75,698.25 L163.75,698.23 L164.76,698.21 L165.77,698.19 L166.78,698.17 L167.79,698.15 L168.80,698.12 L169.80,698.10 L170.81,698.08 L171.82,698.05 L172.83,698.02 L173.84,698.00 L174.85,697.97 L175.85,697.94 L176.86,697.92 L177.87,697.89 L178.88,697.86 L179.89,697.83 L180.89,697.80 L181.90,697.77 L182.91,697.75 L183.92,697.72 L184.93,697.69 L185.94,697.66 L186.94,697.63 L187.95,697.61 L188.96,697.58 L189.97,697.55 L190.98,697.53 L191.98,697.50 L192.99,697.48 L194.00,697.45 L195.01,697.43 L196.02,697.40 L197.03,697.38 L198.03,697.36 L199.04,697.33 L200.05,697.31 L201.06,697.29 L202.07,697.26 L203.08,697.24 L204.08,697.21 L205.09,697.19 L206.10,697.16 L207.11,697.14 L208.12,697.11 L209.13,697.08 L210.13,697.05 L211.14,697.02 L212.15,696.99 L213.16,696.96 L214.17,696.93 L215.17,696.89 L216.18,696.86 L217.19,696.82 L218.20,696.79 L219.21,696.75 L220.21,696.71 L221.22,696.67 L222.23,696.63 L223.24,696.58 L224.24,696.54 L225.25,696.49 L226.26,696.45 L227.27,696.40 L228.27,696.35 L229.28,696.31 L230.29,696.26 L231.30,696.20 L232.30,696.15 L233.31,696.10 L234.32,696.04 L235.32,695.99 L236.33,695.93 L237.34,695.87 L238.34,695.81 L239.35,695.74 L240.36,695.68 L241.36,695.61 L242.37,695.54 L243.38,695.47 L244.38,695.40 L245.39,695.32 L246.40,695.25 L247.40,695.17 L248.41,695.09 L249.41,695.01 L250.42,694.93 L251.42,694.85 L252.43,694.76 L253.43,694.67 L254.44,694.59 L255.44,694.50 L256.44,694.41 L257.45,694.31 L258.46,694.22 L259.46,694.12 L260.47,694.02 L261.47,693.92 L262.48,693.82 L263.48,693.71 L264.49,693.60 L265.49,693.49 L266.49,693.37 L267.50,693.25 L268.50,693.13 L269.50,693.00 L270.50,692.87 L271.49,692.73 L272.49,692.58 L273.48,692.44 L274.48,692.28 L275.47,692.12 L276.46,691.94 L277.45,691.75 L278.44,691.54 L279.42,691.32 L280.41,691.09 L281.39,690.85 L282.37,690.61 L283.35,690.35 L284.32,690.09 L285.29,689.83 L286.26,689.56 L287.23,689.27 L288.20,688.97 L289.16,688.67 L290.12,688.35 L291.08,688.02 L292.03,687.68 L292.98,687.33 L293.92,686.97 L294.85,686.60 L295.78,686.21 L296.70,685.82 L297.63,685.41 L298.55,684.98 L299.47,684.54 L300.38,684.09 L301.29,683.62 L302.18,683.13 L303.06,682.64 L303.93,682.12 L304.78,681.60 L305.61,681.06 L306.42,680.50 L307.22,679.91 L308.01,679.29 L308.78,678.65 L309.54,677.99 L310.29,677.31 L311.04,676.62 L311.77,675.92 L312.51,675.21 L313.24,674.49 L313.96,673.78 L314.69,673.07 L315.42,672.36 L316.14,671.66 L316.87,670.96 L317.60,670.26 L318.31,669.55 L319.03,668.84 L319.74,668.12 L320.44,667.40 L321.14,666.67 L321.82,665.93 L322.49,665.17 L323.15,664.40 L323.81,663.64 L324.50,662.90 L325.21,662.20 L325.95,661.52 L326.72,660.86 L327.50,660.22 L328.30,659.60 L328.50,659.60 L330.30,79.00 L331.80,79.00 L334.00,694.00 L334.30,696.20 L334.65,697.35 L335.00,698.52 L335.40,699.18 L335.88,699.20 L336.38,699.20 L336.89,699.20 L337.42,699.20 L337.97,699.20 L338.52,699.20 L339.10,699.20 L339.69,699.20 L340.29,699.20 L340.91,699.20 L341.54,699.20 L342.18,699.20 L342.84,699.20 L343.51,699.20 L344.20,699.20 L344.90,699.20 L345.61,699.20 L346.34,699.20 L347.08,699.20 L347.83,699.20 L348.59,699.20 L349.37,699.20 L350.15,699.20 L350.95,699.20 L351.77,699.20 L352.59,699.20 L353.42,699.20 L354.27,699.20 L355.12,699.20 L355.99,699.20 L356.87,699.20 L357.76,699.20 L358.65,699.20 L359.56,699.20 L360.48,699.20 L361.41,699.20 L362.34,699.20 L363.29,699.20 L364.25,699.20 L365.21,699.20 L366.19,699.20 L367.17,699.20 L368.16,699.20 L369.16,699.20 L370.16,699.20 L371.18,699.20 L372.20,699.20 L373.23,699.20 L374.27,699.20 L375.31,699.20 L376.37,699.20 L377.43,699.20 L378.49,699.20 L379.56,699.20 L380.64,699.20 L381.72,699.20 L382.81,699.20 L383.91,699.20 L385.01,699.20 L386.12,699.20 L387.23,699.20 L388.35,699.20 L389.47,699.20 L390.60,699.20 L391.73,699.20 L392.86,699.20 L394.00,699.20 L395.15,699.20 L396.29,699.20 L397.45,699.20 L398.60,699.20 L399.76,699.20 L400.92,699.20 L402.08,699.20 L403.25,699.20 L404.42,699.20 L405.59,699.20 L406.76,699.20 L407.94,699.20 L409.11,699.20 L410.29,699.20 L411.47,699.20 L412.65,699.20 L413.84,699.20 L415.02,699.20 L416.20,699.20 L417.39,699.20 L418.57,699.20 L419.76,699.20 L420.94,699.20 L422.13,699.20 L423.31,699.20 L424.50,699.20 L425.68,699.20 L426.87,699.20 L428.05,699.20 L429.23,699.20 L430.41,699.20 L431.58,699.20 L432.76,699.20 L433.93,699.20 L435.10,699.20 L436.27,699.20 L437.44,699.20 L438.60,699.20 L439.77,699.20 L440.92,699.20 L442.08,699.20 L443.23,699.20 L444.38,699.20 L445.52,699.20 L446.66,699.20 L447.80,699.20 L448.93,699.20 L450.06,699.20 L451.18,699.20 L452.30,699.20 L453.41,699.20 L454.52,699.20 L455.62,699.20 L456.72,699.20 L457.81,699.20 L458.89,699.20 L459.97,699.20 L461.05,699.20 L462.11,699.20 L463.17,699.20 L464.22,699.20 L465.27,699.20 L466.31,699.20 L467.34,699.20 L468.36,699.20 L469.38,699.20 L470.39,699.20 L471.40,699.21 L472.41,699.22 L473.42,699.24 L474.44,699.27 L475.45,699.30 L476.47,699.34 L477.48,699.38 L478.50,699.43 L479.51,699.49 L480.52,699.55 L481.52,699.62 L482.52,699.70 L483.52,699.78 L484.52,699.86 L485.50,699.95 L486.49,700.06 L487.50,700.23 L488.50,700.47 L489.50,700.77 L490.47,701.12 L491.38,701.51 L492.24,701.92 L493.04,702.46 L493.80,703.13 L494.52,703.88 L495.20,704.70 L495.60,704.00 L497.00,300.00 L498.20,78.50 L499.30,78.50 L499.40,79.50 L499.49,80.49 L499.59,81.49 L499.69,82.49 L499.78,83.49 L499.88,84.48 L499.97,85.48 L500.07,86.48 L500.16,87.48 L500.26,88.47 L500.35,89.47 L500.44,90.47 L500.54,91.47 L500.63,92.46 L500.72,93.46 L500.80,94.46 L500.89,95.46 L500.98,96.46 L501.06,97.45 L501.15,98.45 L501.23,99.45 L501.31,100.45 L501.39,101.45 L501.47,102.45 L501.54,103.44 L501.62,104.44 L501.69,105.44 L501.76,106.44 L501.83,107.44 L501.90,108.44 L501.96,109.44 L502.03,110.44 L502.09,111.43 L502.15,112.43 L502.21,113.43 L502.27,114.43 L502.33,115.43 L502.39,116.43 L502.45,117.43 L502.51,118.43 L502.57,119.43 L502.62,120.43 L502.68,121.43 L502.73,122.43 L502.79,123.43 L502.84,124.43 L502.90,125.43 L502.95,126.43 L503.01,127.43 L503.06,128.43 L503.11,129.43 L503.16,130.43 L503.21,131.43 L503.26,132.43 L503.31,133.43 L503.36,134.43 L503.41,135.43 L503.46,136.43 L503.51,137.43 L503.56,138.43 L503.61,139.43 L503.65,140.43 L503.70,141.44 L503.75,142.44 L503.79,143.44 L503.84,144.44 L503.88,145.44 L503.93,146.44 L503.97,147.44 L504.02,148.44 L504.06,149.44 L504.11,150.44 L504.15,151.44 L504.19,152.44 L504.24,153.45 L504.28,154.45 L504.32,155.45 L504.36,156.45 L504.40,157.45 L504.45,158.45 L504.49,159.45 L504.53,160.45 L504.57,161.45 L504.61,162.45 L504.65,163.46 L504.69,164.46 L504.73,165.46 L504.77,166.46 L504.81,167.46 L504.85,168.46 L504.89,169.46 L504.93,170.46 L504.97,171.46 L505.01,172.46 L505.05,173.47 L505.09,174.47 L505.13,175.47 L505.17,176.47 L505.21,177.47 L505.25,178.47 L505.29,179.47 L505.32,180.47 L505.36,181.47 L505.40,182.47 L505.44,183.48 L505.48,184.48 L505.52,185.48 L505.56,186.48 L505.60,187.48 L505.63,188.48 L505.67,189.48 L505.71,190.48 L505.75,191.48 L505.78,192.48 L505.82,193.48 L505.86,194.48 L505.90,195.49 L505.93,196.49 L505.97,197.49 L506.01,198.49 L506.04,199.49 L506.08,200.49 L506.11,201.49 L506.15,202.49 L506.19,203.49 L506.22,204.49 L506.26,205.49 L506.29,206.50 L506.33,207.50 L506.36,208.50 L506.40,209.50 L506.43,210.50 L506.46,211.50 L506.50,212.50 L506.53,213.50 L506.57,214.50 L506.60,215.51 L506.63,216.51 L506.67,217.51 L506.70,218.51 L506.73,219.51 L506.77,220.51 L506.80,221.51 L506.83,222.51 L506.87,223.51 L506.90,224.51 L506.93,225.52 L506.96,226.52 L507.00,227.52 L507.03,228.52 L507.06,229.52 L507.09,230.52 L507.12,231.52 L507.16,232.52 L507.19,233.53 L507.22,234.53 L507.25,235.53 L507.28,236.53 L507.31,237.53 L507.35,238.53 L507.38,239.53 L507.41,240.53 L507.44,241.53 L507.47,242.54 L507.50,243.54 L507.53,244.54 L507.56,245.54 L507.60,246.54 L507.63,247.54 L507.66,248.54 L507.69,249.54 L507.72,250.54 L507.75,251.55 L507.78,252.55 L507.81,253.55 L507.84,254.55 L507.87,255.55 L507.90,256.55 L507.93,257.55 L507.97,258.55 L508.00,259.56 L508.03,260.56 L508.06,261.56 L508.09,262.56 L508.12,263.56 L508.15,264.56 L508.18,265.56 L508.21,266.56 L508.24,267.57 L508.27,268.57 L508.30,269.57 L508.33,270.57 L508.36,271.57 L508.39,272.57 L508.43,273.57 L508.46,274.57 L508.49,275.57 L508.52,276.58 L508.55,277.58 L508.58,278.58 L508.61,279.58 L508.64,280.58 L508.67,281.58 L508.70,282.58 L508.73,283.58 L508.76,284.58 L508.79,285.59 L508.82,286.59 L508.85,287.59 L508.88,288.59 L508.91,289.59 L508.94,290.59 L508.97,291.59 L509.00,292.59 L509.03,293.60 L509.06,294.60 L509.09,295.60 L509.12,296.60 L509.15,297.60 L509.18,298.60 L509.21,299.60 L509.24,300.60 L509.27,301.60 L509.30,302.61 L509.33,303.61 L509.36,304.61 L509.39,305.61 L509.42,306.61 L509.45,307.61 L509.48,308.61 L509.51,309.61 L509.54,310.62 L509.57,311.62 L509.60,312.62 L509.62,313.62 L509.65,314.62 L509.68,315.62 L509.71,316.62 L509.74,317.62 L509.77,318.63 L509.80,319.63 L509.83,320.63 L509.86,321.63 L509.89,322.63 L509.91,323.63 L509.94,324.63 L509.97,325.63 L510.00,326.63 L510.03,327.64 L510.06,328.64 L510.09,329.64 L510.11,330.64 L510.14,331.64 L510.17,332.64 L510.20,333.64 L510.23,334.64 L510.26,335.65 L510.29,336.65 L510.31,337.65 L510.34,338.65 L510.37,339.65 L510.40,340.65 L510.43,341.65 L510.46,342.65 L510.48,343.66 L510.51,344.66 L510.54,345.66 L510.57,346.66 L510.60,347.66 L510.63,348.66 L510.65,349.66 L510.68,350.66 L510.71,351.67 L510.74,352.67 L510.77,353.67 L510.79,354.67 L510.82,355.67 L510.85,356.67 L510.88,357.67 L510.91,358.67 L510.93,359.68 L510.96,360.68 L510.99,361.68 L511.02,362.68 L511.05,363.68 L511.07,364.68 L511.10,365.68 L511.13,366.68 L511.16,367.69 L511.19,368.69 L511.21,369.69 L511.24,370.69 L511.27,371.69 L511.30,372.69 L511.32,373.69 L511.35,374.69 L511.38,375.70 L511.41,376.70 L511.44,377.70 L511.46,378.70 L511.49,379.70 L511.52,380.70 L511.55,381.70 L511.57,382.70 L511.60,383.71 L511.63,384.71 L511.65,385.71 L511.68,386.71 L511.71,387.71 L511.73,388.71 L511.76,389.71 L511.78,390.71 L511.81,391.72 L511.84,392.72 L511.86,393.72 L511.89,394.72 L511.91,395.72 L511.93,396.72 L511.96,397.72 L511.98,398.73 L512.01,399.73 L512.03,400.73 L512.06,401.73 L512.08,402.73 L512.10,403.73 L512.13,404.73 L512.15,405.74 L512.17,406.74 L512.20,407.74 L512.22,408.74 L512.24,409.74 L512.27,410.74 L512.29,411.75 L512.31,412.75 L512.34,413.75 L512.36,414.75 L512.38,415.75 L512.40,416.75 L512.43,417.75 L512.45,418.76 L512.47,419.76 L512.50,420.76 L512.52,421.76 L512.54,422.76 L512.56,423.76 L512.59,424.77 L512.61,425.77 L512.63,426.77 L512.66,427.77 L512.68,428.77 L512.70,429.77 L512.73,430.77 L512.75,431.78 L512.77,432.78 L512.80,433.78 L512.82,434.78 L512.84,435.78 L512.87,436.78 L512.89,437.79 L512.91,438.79 L512.94,439.79 L512.96,440.79 L512.99,441.79 L513.01,442.79 L513.03,443.79 L513.06,444.80 L513.08,445.80 L513.11,446.80 L513.13,447.80 L513.16,448.80 L513.18,449.80 L513.21,450.80 L513.24,451.80 L513.26,452.81 L513.29,453.81 L513.31,454.81 L513.34,455.81 L513.37,456.81 L513.40,457.81 L513.42,458.81 L513.45,459.81 L513.48,460.82 L513.51,461.82 L513.53,462.82 L513.56,463.82 L513.59,464.82 L513.62,465.82 L513.65,466.82 L513.68,467.82 L513.71,468.82 L513.74,469.83 L513.77,470.83 L513.80,471.83 L513.83,472.83 L513.86,473.83 L513.90,474.83 L513.93,475.83 L513.96,476.83 L513.99,477.83 L514.03,478.83 L514.06,479.83 L514.09,480.84 L514.13,481.84 L514.16,482.84 L514.20,483.84 L514.23,484.84 L514.27,485.84 L514.31,486.84 L514.34,487.84 L514.38,488.84 L514.42,489.84 L514.46,490.84 L514.49,491.84 L514.53,492.84 L514.57,493.84 L514.61,494.84 L514.66,495.84 L514.70,496.84 L514.75,497.84 L514.79,498.85 L514.84,499.85 L514.89,500.85 L514.94,501.85 L514.99,502.85 L515.04,503.85 L515.09,504.85 L515.14,505.85 L515.19,506.85 L515.25,507.85 L515.30,508.85 L515.36,509.85 L515.42,510.85 L515.47,511.85 L515.53,512.85 L515.59,513.85 L515.65,514.85 L515.71,515.85 L515.77,516.85 L515.83,517.85 L515.90,518.85 L515.96,519.85 L516.02,520.85 L516.09,521.85 L516.15,522.85 L516.22,523.85 L516.28,524.85 L516.35,525.85 L516.41,526.85 L516.48,527.84 L516.55,528.84 L516.61,529.84 L516.68,530.84 L516.75,531.84 L516.82,532.84 L516.88,533.84 L516.95,534.84 L517.02,535.84 L517.09,536.84 L517.16,537.84 L517.23,538.84 L517.30,539.84 L517.37,540.84 L517.44,541.84 L517.50,542.84 L517.57,543.84 L517.64,544.84 L517.71,545.83 L517.78,546.83 L517.85,547.83 L517.92,548.83 L517.99,549.83 L518.06,550.83 L518.13,551.83 L518.20,552.83 L518.27,553.83 L518.35,554.83 L518.42,555.83 L518.50,556.82 L518.58,557.82 L518.65,558.82 L518.73,559.82 L518.81,560.82 L518.89,561.82 L518.97,562.81 L519.06,563.81 L519.14,564.81 L519.22,565.81 L519.30,566.81 L519.39,567.81 L519.47,568.80 L519.55,569.80 L519.64,570.80 L519.72,571.80 L519.80,572.80 L519.89,573.80 L519.97,574.79 L520.05,575.79 L520.13,576.79 L520.22,577.79 L520.30,578.79 L520.38,579.79 L520.46,580.78 L520.54,581.78 L520.62,582.78 L520.70,583.78 L520.77,584.78 L520.85,585.78 L520.93,586.78 L521.00,587.77 L521.07,588.77 L521.14,589.77 L521.22,590.77 L521.28,591.77 L521.35,592.77 L521.42,593.77 L521.48,594.77 L521.55,595.77 L521.61,596.77 L521.67,597.77 L521.73,598.77 L521.78,599.77 L521.84,600.77 L521.90,601.77 L521.95,602.77 L522.01,603.77 L522.06,604.77 L522.12,605.77 L522.17,606.77 L522.22,607.77 L522.28,608.77 L522.33,609.77 L522.38,610.77 L522.44,611.77 L522.49,612.78 L522.55,613.78 L522.60,614.78 L522.66,615.78 L522.71,616.78 L522.77,617.78 L522.83,618.78 L522.89,619.78 L522.95,620.78 L523.02,621.77 L523.08,622.77 L523.15,623.77 L523.21,624.77 L523.28,625.77 L523.35,626.77 L523.43,627.77 L523.50,628.77 L523.58,629.76 L523.66,630.76 L523.74,631.76 L523.83,632.76 L523.91,633.76 L524.00,634.76 L524.09,635.75 L524.18,636.75 L524.28,637.75 L524.37,638.75 L524.47,639.75 L524.57,640.75 L524.68,641.75 L524.79,642.74 L524.90,643.74 L525.01,644.74 L525.12,645.73 L525.24,646.73 L525.37,647.72 L525.49,648.72 L525.62,649.71 L525.75,650.70 L525.89,651.69 L526.03,652.68 L526.18,653.67 L526.32,654.65 L526.48,655.64 L526.64,656.63 L526.81,657.62 L526.99,658.61 L527.18,659.60 L527.37,660.59 L527.58,661.58 L527.79,662.56 L528.01,663.54 L528.24,664.53 L528.47,665.50 L528.72,666.47 L528.97,667.44 L529.24,668.41 L529.51,669.36 L529.79,670.31 L530.08,671.26 L530.39,672.20 L530.73,673.14 L531.09,674.08 L531.46,675.02 L531.86,675.96 L532.28,676.88 L532.72,677.80 L533.17,678.70 L533.63,679.60 L534.11,680.47 L534.60,681.33 L535.11,682.17 L535.63,683.01 L536.19,683.84 L536.77,684.67 L537.38,685.48 L538.01,686.29 L538.66,687.07 L539.33,687.84 L540.02,688.58 L540.72,689.30 L541.43,689.99 L542.16,690.64 L542.90,691.29 L543.68,691.93 L544.48,692.57 L545.31,693.18 L546.16,693.77 L547.02,694.33 L547.89,694.83 L548.78,695.29 L549.67,695.68 L550.57,696.01 L551.50,696.33 L552.44,696.64 L553.39,696.93 L554.37,697.22 L555.35,697.48 L556.34,697.73 L557.34,697.95 L558.34,698.14 L559.34,698.31 L560.34,698.45 L561.34,698.55 L562.33,698.62 L563.32,698.68 L564.31,698.74 L565.31,698.79 L566.30,698.84 L567.30,698.89 L568.30,698.93 L569.30,698.97 L570.31,699.01 L571.31,699.05 L572.32,699.08 L573.32,699.11 L574.33,699.13 L575.33,699.15 L576.34,699.17 L577.34,699.19 L578.35,699.19 L579.35,699.20 L580.35,699.20 L581.35,699.20 L582.35,699.20 L583.36,699.20 L584.36,699.20 L585.36,699.20 L586.36,699.20 L587.36,699.20 L588.36,699.20 L589.36,699.20 L590.36,699.20 L591.37,699.20 L592.37,699.20 L593.37,699.20 L594.37,699.20 L595.37,699.20 L596.37,699.20 L597.37,699.20 L598.37,699.20 L599.38,699.20 L600.38,699.20 L601.38,699.20 L602.38,699.20 L603.38,699.20 L604.38,699.20 L605.38,699.20 L606.39,699.20 L607.39,699.20 L608.39,699.20 L609.39,699.20 L610.39,699.20 L611.39,699.20 L612.39,699.20 L613.39,699.20 L614.40,699.20 L615.40,699.20 L616.40,699.20 L617.40,699.20 L618.40,699.20 L619.40,699.20 L620.40,699.20 L621.40,699.20 L622.41,699.20 L623.41,699.20 L624.41,699.20 L625.41,699.20 L626.41,699.20 L627.41,699.20 L628.41,699.20 L629.42,699.20 L630.42,699.20 L631.42,699.20 L632.42,699.20 L633.42,699.20 L634.42,699.20 L635.42,699.20 L636.42,699.20 L637.43,699.20 L638.43,699.20 L639.43,699.20 L640.43,699.20 L641.43,699.20 L642.43,699.20 L643.43,699.20 L644.44,699.20 L645.44,699.20 L646.44,699.20 L647.44,699.20 L648.44,699.20 L649.44,699.20 L650.44,699.20 L651.44,699.20 L652.45,699.20 L653.45,699.20 L654.45,699.20 L655.45,699.20 L656.45,699.20 L657.45,699.20 L658.45,699.20 L659.46,699.20 L660.46,699.20 L661.46,699.20 L662.46,699.20 L663.46,699.20 L664.46,699.20 L665.46,699.20 L666.47,699.20 L667.47,699.20 L668.47,699.20 L669.47,699.20 L670.47,699.20 L671.47,699.20 L672.47,699.20 L673.47,699.20 L674.48,699.20 L675.48,699.20 L676.48,699.20 L677.48,699.20 L678.48,699.20 L679.48,699.20 L680.48,699.20 L681.49,699.20 L682.49,699.20 L683.49,699.20 L684.49,699.20 L685.49,699.20 L686.49,699.20 L687.49,699.20 L688.50,699.20 L689.50,699.20 L690.50,699.20 L691.50,699.20 L692.50,699.20 L693.50,699.20 L694.50,699.20 L695.51,699.20 L696.51,699.20 L697.51,699.20 L698.51,699.20 L699.51,699.20 L700.51,699.20 L701.51,699.20 L702.52,699.20 L703.52,699.20 L704.52,699.20 L705.52,699.20 L706.52,699.20 L707.52,699.20 L708.52,699.20 L709.53,699.20 L710.53,699.20 L711.53,699.20 L712.53,699.20 L713.53,699.20 L714.53,699.20 L715.53,699.20 L716.54,699.20 L717.54,699.20 L718.54,699.20 L719.54,699.20 L720.54,699.20 L721.54,699.20 L722.54,699.20 L723.55,699.20 L724.55,699.20 L725.55,699.20 L726.55,699.20 L727.55,699.20 L728.55,699.20 L729.55,699.20 L730.56,699.20 L731.56,699.20 L732.56,699.20 L733.56,699.20 L734.56,699.20 L735.56,699.20 L736.57,699.20 L737.57,699.20 L738.57,699.20 L739.57,699.20 L740.57,699.20 L741.57,699.20 L742.57,699.20 L743.58,699.20 L744.58,699.20 L745.58,699.20 L746.58,699.20 L747.58,699.20 L748.58,699.20 L749.58,699.20 L750.59,699.20 L751.59,699.20 L752.59,699.20 L753.59,699.20 L754.59,699.20 L755.59,699.20 L756.60,699.20 L757.60,699.20 L758.60,699.20 L759.60,699.20 L760.60,699.20 L761.60,699.20 L762.60,699.20 L763.61,699.20 L764.61,699.20 L765.61,699.20 L766.61,699.20 L767.61,699.20 L768.61,699.20 L769.62,699.20 L770.62,699.20 L771.62,699.20 L772.62,699.20 L773.62,699.20 L774.62,699.20 L775.63,699.20 L776.63,699.20 L777.63,699.20 L778.63,699.20 L779.63,699.20 L780.63,699.20 L781.63,699.20 L782.64,699.20 L783.64,699.20 L784.64,699.20 L785.64,699.20 L786.64,699.20 L787.64,699.20 L788.65,699.20 L789.65,699.20 L790.65,699.20 L791.65,699.20 L792.65,699.20 L793.65,699.20 L794.66,699.20 L795.66,699.20 L796.66,699.20 L797.66,699.20 L798.66,699.20 L799.66,699.20 L800.67,699.20 L801.67,699.20 L802.67,699.20 L803.67,699.20 L804.67,699.20 L805.67,699.20 L806.68,699.20 L807.68,699.20 L808.68,699.20 L809.68,699.20 L810.68,699.20 L811.68,699.20 L812.69,699.20 L813.69,699.20 L814.69,699.20 L815.69,699.20 L816.69,699.20 L817.69,699.20 L818.70,699.20 L819.70,699.20 L820.70,699.20 L821.70,699.20 L822.70,699.20 L823.70,699.20 L824.71,699.20 L825.71,699.20 L826.71,699.20 L827.71,699.20 L828.71,699.20 L829.71,699.20 L830.72,699.20 L831.72,699.20 L832.72,699.20 L833.72,699.20 L834.72,699.20 L835.72,699.20 L836.73,699.20 L837.73,699.20 L838.73,699.20 L839.73,699.20 L840.73,699.20 L841.73,699.20 L842.74,699.20 L843.74,699.20 L844.74,699.20 L845.74,699.20 L846.74,699.20 L847.74,699.20 L848.75,699.20 L849.75,699.20 L850.75,699.20 L851.75,699.20 L852.75,699.20 L853.76,699.20 L854.76,699.20 L855.76,699.20 L856.76,699.20 L857.76,699.20 L858.76,699.20 L859.77,699.20 L860.77,699.20 L861.77,699.20 L862.77,699.20 L863.77,699.20 L864.78,699.20 L865.78,699.20 L866.78,699.20 L867.78,699.20 L868.78,699.20 L869.78,699.20 L870.79,699.20 L871.79,699.20 L872.79,699.20 L873.79,699.20 L874.79,699.20 L875.80,699.20 L876.80,699.20 L877.80,699.20 L878.80,699.20 L879.80,699.20 L880.80,699.20 L881.81,699.20 L882.81,699.20 L883.81,699.20 L884.81,699.20 L885.81,699.20 L886.82,699.20 L887.82,699.20 L888.82,699.20 L889.82,699.20 L890.82,699.20 L891.82,699.20 L892.83,699.20 L893.83,699.20 L894.83,699.20 L895.83,699.20 L896.83,699.20 L897.84,699.20 L898.84,699.20 L899.84,699.20 L900.84,699.20 L901.84,699.20 L902.85,699.20 L903.85,699.20 L904.85,699.20 L905.85,699.20 L906.85,699.20 L907.86,699.20 L908.86,699.20 L909.86,699.20 L910.86,699.20 L911.86,699.20 L912.86,699.20 L913.87,699.20 L914.87,699.20 L915.87,699.20 L916.87,699.20 L917.87,699.20 L918.88,699.20 L919.88,699.20 L920.88,699.20 L921.88,699.20 L922.88,699.20 L923.89,699.20 L924.89,699.20 L925.89,699.20 L926.89,699.20 L927.89,699.20 L928.90,699.20 L929.90,699.20 L930.90,699.20 L931.90,699.20 L932.90,699.20 L933.91,699.20 L934.91,699.20 L935.91,699.20 L936.91,699.20 L937.91,699.20 L938.92,699.20 L939.92,699.20 L940.92,699.20 L941.92,699.20 L942.92,699.20 L943.93,699.20 L944.93,699.20 L945.93,699.20 L946.93,699.20 L947.93,699.20 L948.94,699.20 L949.94,699.20 L950.94,699.20 L951.94,699.20 L952.95,699.20 L953.95,699.20 L954.95,699.20 L955.95,699.20 L956.95,699.20 L957.96,699.20 L958.96,699.20 L959.96,699.20 L960.96,699.20 L961.96,699.20 L962.97,699.20 L963.97,699.20 L964.97,699.20 L965.97,699.20 L966.97,699.20 L967.98,699.20 L968.98,699.20 L969.98,699.20 L970.98,699.20 L971.98,699.20 L972.99,699.20 L973.99,699.20 L974.99,699.20 L975.99,699.20 L977.00,699.20 L978.00,699.20 L979.00,699.20" stroke="#1565e0" stroke-width="2.4" stroke-dasharray="6.3 5.7"/>
<path d="M133.50,698.60 L134.51,698.59 L135.52,698.59 L136.53,698.58 L137.54,698.57 L138.54,698.57 L139.55,698.56 L140.56,698.55 L141.57,698.54 L142.58,698.53 L143.59,698.52 L144.60,698.51 L145.60,698.50 L146.61,698.49 L147.62,698.47 L148.63,698.46 L149.64,698.45 L150.65,698.44 L151.66,698.42 L152.67,698.41 L153.67,698.39 L154.68,698.38 L155.69,698.36 L156.70,698.35 L157.71,698.33 L158.72,698.32 L159.73,698.30 L160.73,698.29 L161.74,698.27 L162.75,698.25 L163.76,698.23 L164.77,698.21 L165.78,698.19 L166.79,698.17 L167.79,698.15 L168.80,698.13 L169.81,698.10 L170.82,698.08 L171.83,698.05 L172.84,698.03 L173.84,698.00 L174.85,697.97 L175.86,697.95 L176.87,697.92 L177.88,697.89 L178.89,697.86 L179.89,697.84 L180.90,697.81 L181.91,697.78 L182.92,697.75 L183.93,697.72 L184.94,697.69 L185.95,697.66 L186.95,697.64 L187.96,697.61 L188.97,697.58 L189.98,697.55 L190.99,697.53 L192.00,697.50 L193.00,697.47 L194.01,697.45 L195.02,697.42 L196.03,697.40 L197.04,697.37 L198.05,697.35 L199.05,697.32 L200.06,697.30 L201.07,697.27 L202.08,697.25 L203.09,697.22 L204.10,697.19 L205.11,697.17 L206.11,697.14 L207.12,697.11 L208.13,697.08 L209.14,697.05 L210.15,697.02 L211.16,696.99 L212.16,696.96 L213.17,696.92 L214.18,696.89 L215.19,696.85 L216.20,696.81 L217.20,696.77 L218.21,696.73 L219.22,696.69 L220.23,696.65 L221.24,696.61 L222.24,696.56 L223.25,696.52 L224.26,696.47 L225.27,696.42 L226.27,696.37 L227.28,696.32 L228.29,696.27 L229.30,696.22 L230.30,696.16 L231.31,696.11 L232.32,696.05 L233.33,696.00 L234.33,695.94 L235.34,695.88 L236.35,695.82 L237.35,695.76 L238.36,695.69 L239.37,695.62 L240.37,695.56 L241.38,695.49 L242.39,695.41 L243.39,695.34 L244.40,695.26 L245.40,695.19 L246.41,695.11 L247.42,695.03 L248.42,694.95 L249.43,694.86 L250.43,694.78 L251.44,694.69 L252.44,694.60 L253.45,694.51 L254.45,694.42 L255.45,694.33 L256.46,694.23 L257.46,694.14 L258.47,694.04 L259.48,693.94 L260.48,693.84 L261.49,693.74 L262.49,693.63 L263.50,693.52 L264.50,693.41 L265.50,693.29 L266.51,693.17 L267.51,693.05 L268.51,692.92 L269.51,692.79 L270.51,692.65 L271.50,692.51 L272.50,692.37 L273.49,692.21 L274.49,692.06 L275.48,691.89 L276.47,691.71 L277.46,691.51 L278.45,691.31 L279.43,691.08 L280.42,690.85 L281.40,690.61 L282.38,690.36 L283.36,690.10 L284.33,689.84 L285.30,689.57 L286.27,689.30 L287.24,689.01 L288.20,688.71 L289.17,688.40 L290.13,688.08 L291.08,687.74 L292.03,687.40 L292.98,687.05 L293.92,686.69 L294.85,686.31 L295.78,685.93 L296.70,685.53 L297.63,685.12 L298.55,684.69 L299.47,684.25 L300.38,683.79 L301.28,683.32 L302.18,682.84 L303.06,682.34 L303.93,681.83 L304.78,681.30 L305.61,680.76 L306.42,680.20 L307.22,679.61 L308.00,678.99 L308.77,678.35 L309.54,677.69 L310.29,677.01 L311.03,676.32 L311.77,675.62 L312.50,674.91 L313.23,674.19 L313.96,673.48 L314.69,672.77 L315.41,672.06 L316.14,671.36 L316.87,670.67 L317.59,669.96 L318.31,669.25 L319.03,668.54 L319.73,667.82 L320.44,667.10 L321.13,666.37 L321.82,665.63 L322.48,664.87 L323.14,664.10 L323.81,663.34 L324.50,662.60 L325.21,661.90 L325.95,661.22 L326.72,660.56 L327.50,659.92 L328.30,659.30 L328.50,659.30 L330.30,78.50 L331.80,78.50 L334.00,694.00 L334.30,696.20 L334.65,697.35 L335.00,698.52 L335.40,699.18 L335.88,699.20 L336.38,699.20 L336.89,699.20 L337.42,699.20 L337.97,699.20 L338.52,699.20 L339.10,699.20 L339.69,699.20 L340.29,699.20 L340.91,699.20 L341.54,699.20 L342.18,699.20 L342.84,699.20 L343.51,699.20 L344.20,699.20 L344.90,699.20 L345.61,699.20 L346.34,699.20 L347.08,699.20 L347.83,699.20 L348.59,699.20 L349.37,699.20 L350.15,699.20 L350.95,699.20 L351.77,699.20 L352.59,699.20 L353.42,699.20 L354.27,699.20 L355.12,699.20 L355.99,699.20 L356.87,699.20 L357.76,699.20 L358.65,699.20 L359.56,699.20 L360.48,699.20 L361.41,699.20 L362.34,699.20 L363.29,699.20 L364.25,699.20 L365.21,699.20 L366.19,699.20 L367.17,699.20 L368.16,699.20 L369.16,699.20 L370.16,699.20 L371.18,699.20 L372.20,699.20 L373.23,699.20 L374.27,699.20 L375.31,699.20 L376.37,699.20 L377.43,699.20 L378.49,699.20 L379.56,699.20 L380.64,699.20 L381.72,699.20 L382.81,699.20 L383.91,699.20 L385.01,699.20 L386.12,699.20 L387.23,699.20 L388.35,699.20 L389.47,699.20 L390.60,699.20 L391.73,699.20 L392.86,699.20 L394.00,699.20 L395.15,699.20 L396.29,699.20 L397.45,699.20 L398.60,699.20 L399.76,699.20 L400.92,699.20 L402.08,699.20 L403.25,699.20 L404.42,699.20 L405.59,699.20 L406.76,699.20 L407.94,699.20 L409.11,699.20 L410.29,699.20 L411.47,699.20 L412.65,699.20 L413.84,699.20 L415.02,699.20 L416.20,699.20 L417.39,699.20 L418.57,699.20 L419.76,699.20 L420.94,699.20 L422.13,699.20 L423.31,699.20 L424.50,699.20 L425.68,699.20 L426.87,699.20 L428.05,699.20 L429.23,699.20 L430.41,699.20 L431.58,699.20 L432.76,699.20 L433.93,699.20 L435.10,699.20 L436.27,699.20 L437.44,699.20 L438.60,699.20 L439.77,699.20 L440.92,699.20 L442.08,699.20 L443.23,699.20 L444.38,699.20 L445.52,699.20 L446.66,699.20 L447.80,699.20 L448.93,699.20 L450.06,699.20 L451.18,699.20 L452.30,699.20 L453.41,699.20 L454.52,699.20 L455.62,699.20 L456.72,699.20 L457.81,699.20 L458.89,699.20 L459.97,699.20 L461.05,699.20 L462.11,699.20 L463.17,699.20 L464.22,699.20 L465.27,699.20 L466.31,699.20 L467.34,699.20 L468.36,699.20 L469.38,699.20 L470.39,699.20 L471.40,699.21 L472.41,699.22 L473.42,699.24 L474.44,699.27 L475.45,699.30 L476.47,699.34 L477.48,699.38 L478.50,699.43 L479.51,699.49 L480.52,699.55 L481.52,699.62 L482.52,699.70 L483.52,699.78 L484.52,699.86 L485.50,699.95 L486.49,700.06 L487.50,700.23 L488.50,700.47 L489.50,700.77 L490.47,701.12 L491.38,701.51 L492.24,701.92 L493.04,702.46 L493.80,703.13 L494.52,703.88 L495.20,704.70 L495.60,704.00 L497.00,300.00 L498.20,78.00 L498.90,78.00 L499.04,78.99 L499.18,79.98 L499.32,80.98 L499.45,81.97 L499.59,82.96 L499.73,83.95 L499.86,84.95 L499.99,85.94 L500.13,86.93 L500.26,87.93 L500.39,88.92 L500.52,89.91 L500.65,90.91 L500.77,91.90 L500.90,92.89 L501.02,93.89 L501.15,94.88 L501.27,95.87 L501.39,96.87 L501.51,97.86 L501.62,98.86 L501.74,99.85 L501.85,100.85 L501.96,101.84 L502.07,102.84 L502.18,103.83 L502.28,104.83 L502.39,105.82 L502.49,106.82 L502.59,107.81 L502.69,108.81 L502.78,109.80 L502.87,110.80 L502.97,111.80 L503.06,112.79 L503.15,113.79 L503.23,114.79 L503.32,115.78 L503.41,116.78 L503.49,117.78 L503.58,118.77 L503.66,119.77 L503.74,120.77 L503.82,121.77 L503.90,122.77 L503.98,123.76 L504.06,124.76 L504.14,125.76 L504.21,126.76 L504.29,127.76 L504.37,128.76 L504.44,129.75 L504.51,130.75 L504.59,131.75 L504.66,132.75 L504.73,133.75 L504.80,134.75 L504.87,135.75 L504.94,136.75 L505.01,137.75 L505.08,138.74 L505.15,139.74 L505.22,140.74 L505.29,141.74 L505.36,142.74 L505.42,143.74 L505.49,144.74 L505.56,145.74 L505.62,146.74 L505.69,147.74 L505.76,148.74 L505.82,149.74 L505.89,150.74 L505.95,151.74 L506.02,152.74 L506.09,153.73 L506.15,154.73 L506.22,155.73 L506.28,156.73 L506.35,157.73 L506.42,158.73 L506.48,159.73 L506.55,160.73 L506.61,161.73 L506.68,162.73 L506.74,163.73 L506.81,164.72 L506.87,165.72 L506.94,166.72 L507.00,167.72 L507.06,168.72 L507.12,169.72 L507.19,170.72 L507.25,171.72 L507.31,172.72 L507.37,173.72 L507.43,174.72 L507.49,175.72 L507.55,176.72 L507.61,177.72 L507.67,178.72 L507.73,179.72 L507.79,180.71 L507.84,181.71 L507.90,182.71 L507.96,183.71 L508.02,184.71 L508.08,185.71 L508.13,186.71 L508.19,187.71 L508.25,188.71 L508.30,189.71 L508.36,190.71 L508.41,191.71 L508.47,192.71 L508.52,193.71 L508.58,194.71 L508.63,195.71 L508.69,196.71 L508.74,197.71 L508.80,198.71 L508.85,199.71 L508.91,200.71 L508.96,201.71 L509.02,202.71 L509.07,203.71 L509.12,204.71 L509.18,205.71 L509.23,206.71 L509.29,207.71 L509.34,208.71 L509.39,209.71 L509.45,210.71 L509.50,211.71 L509.55,212.71 L509.61,213.71 L509.66,214.71 L509.71,215.71 L509.77,216.71 L509.82,217.71 L509.88,218.71 L509.93,219.71 L509.98,220.71 L510.04,221.71 L510.09,222.71 L510.14,223.71 L510.20,224.71 L510.25,225.71 L510.31,226.71 L510.36,227.71 L510.42,228.71 L510.47,229.71 L510.52,230.71 L510.58,231.71 L510.63,232.71 L510.69,233.71 L510.75,234.71 L510.80,235.71 L510.86,236.71 L510.91,237.71 L510.97,238.71 L511.03,239.71 L511.08,240.71 L511.14,241.71 L511.20,242.71 L511.25,243.71 L511.31,244.70 L511.37,245.70 L511.43,246.70 L511.49,247.70 L511.54,248.70 L511.60,249.70 L511.66,250.70 L511.72,251.70 L511.78,252.70 L511.84,253.70 L511.90,254.70 L511.96,255.70 L512.03,256.70 L512.09,257.70 L512.15,258.70 L512.21,259.69 L512.28,260.69 L512.34,261.69 L512.40,262.69 L512.47,263.69 L512.53,264.69 L512.60,265.69 L512.66,266.69 L512.73,267.69 L512.80,268.69 L512.86,269.68 L512.93,270.68 L513.00,271.68 L513.07,272.68 L513.14,273.68 L513.21,274.68 L513.28,275.68 L513.35,276.67 L513.42,277.67 L513.49,278.67 L513.56,279.67 L513.64,280.67 L513.71,281.67 L513.78,282.66 L513.86,283.66 L513.93,284.66 L514.01,285.66 L514.09,286.66 L514.16,287.65 L514.24,288.65 L514.32,289.65 L514.40,290.65 L514.48,291.65 L514.56,292.64 L514.64,293.64 L514.72,294.64 L514.80,295.64 L514.88,296.64 L514.96,297.63 L515.04,298.63 L515.13,299.63 L515.21,300.63 L515.29,301.62 L515.38,302.62 L515.46,303.62 L515.54,304.62 L515.63,305.61 L515.71,306.61 L515.80,307.61 L515.89,308.61 L515.97,309.61 L516.06,310.60 L516.15,311.60 L516.23,312.60 L516.32,313.59 L516.41,314.59 L516.50,315.59 L516.59,316.59 L516.68,317.58 L516.77,318.58 L516.85,319.58 L516.94,320.58 L517.03,321.57 L517.13,322.57 L517.22,323.57 L517.31,324.57 L517.40,325.56 L517.49,326.56 L517.58,327.56 L517.67,328.55 L517.76,329.55 L517.86,330.55 L517.95,331.55 L518.04,332.54 L518.13,333.54 L518.23,334.54 L518.32,335.53 L518.41,336.53 L518.51,337.53 L518.60,338.53 L518.69,339.52 L518.79,340.52 L518.88,341.52 L518.97,342.51 L519.07,343.51 L519.16,344.51 L519.26,345.50 L519.35,346.50 L519.44,347.50 L519.54,348.50 L519.63,349.49 L519.73,350.49 L519.82,351.49 L519.92,352.48 L520.01,353.48 L520.10,354.48 L520.20,355.47 L520.29,356.47 L520.39,357.47 L520.48,358.47 L520.58,359.46 L520.67,360.46 L520.76,361.46 L520.86,362.45 L520.95,363.45 L521.05,364.45 L521.14,365.44 L521.23,366.44 L521.33,367.44 L521.42,368.43 L521.52,369.43 L521.61,370.43 L521.70,371.43 L521.80,372.42 L521.89,373.42 L521.98,374.42 L522.08,375.41 L522.17,376.41 L522.26,377.41 L522.35,378.40 L522.44,379.40 L522.54,380.40 L522.63,381.40 L522.72,382.39 L522.81,383.39 L522.90,384.39 L522.99,385.38 L523.08,386.38 L523.17,387.38 L523.26,388.38 L523.34,389.38 L523.43,390.37 L523.52,391.37 L523.61,392.37 L523.69,393.37 L523.78,394.37 L523.87,395.36 L523.95,396.36 L524.04,397.36 L524.12,398.36 L524.21,399.36 L524.29,400.36 L524.38,401.36 L524.46,402.36 L524.55,403.35 L524.63,404.35 L524.72,405.35 L524.80,406.35 L524.89,407.35 L524.97,408.35 L525.05,409.35 L525.14,410.35 L525.22,411.35 L525.31,412.34 L525.39,413.34 L525.47,414.34 L525.56,415.34 L525.64,416.34 L525.72,417.34 L525.81,418.34 L525.89,419.34 L525.98,420.34 L526.06,421.34 L526.15,422.34 L526.23,423.33 L526.32,424.33 L526.40,425.33 L526.49,426.33 L526.57,427.33 L526.66,428.33 L526.74,429.33 L526.83,430.33 L526.92,431.33 L527.00,432.32 L527.09,433.32 L527.18,434.32 L527.26,435.32 L527.35,436.32 L527.44,437.32 L527.53,438.31 L527.62,439.31 L527.71,440.31 L527.80,441.31 L527.89,442.31 L527.98,443.30 L528.07,444.30 L528.16,445.30 L528.25,446.30 L528.35,447.29 L528.44,448.29 L528.53,449.29 L528.63,450.29 L528.72,451.28 L528.82,452.28 L528.92,453.28 L529.01,454.27 L529.11,455.27 L529.21,456.27 L529.31,457.26 L529.41,458.26 L529.51,459.25 L529.61,460.25 L529.71,461.25 L529.81,462.24 L529.91,463.24 L530.02,464.23 L530.12,465.23 L530.23,466.22 L530.33,467.22 L530.44,468.21 L530.55,469.21 L530.66,470.20 L530.77,471.19 L530.88,472.19 L530.99,473.18 L531.10,474.17 L531.22,475.17 L531.33,476.16 L531.45,477.15 L531.56,478.15 L531.68,479.14 L531.80,480.13 L531.92,481.12 L532.04,482.11 L532.16,483.11 L532.28,484.10 L532.41,485.09 L532.53,486.08 L532.66,487.07 L532.78,488.06 L532.91,489.05 L533.04,490.04 L533.17,491.03 L533.30,492.02 L533.44,493.01 L533.57,494.00 L533.71,494.99 L533.86,495.98 L534.00,496.97 L534.15,497.95 L534.30,498.94 L534.45,499.93 L534.61,500.92 L534.77,501.91 L534.93,502.90 L535.09,503.88 L535.26,504.87 L535.42,505.86 L535.60,506.85 L535.77,507.83 L535.94,508.82 L536.12,509.81 L536.30,510.79 L536.48,511.78 L536.66,512.77 L536.85,513.75 L537.03,514.74 L537.22,515.72 L537.41,516.71 L537.61,517.69 L537.80,518.68 L538.00,519.66 L538.19,520.64 L538.39,521.63 L538.59,522.61 L538.79,523.59 L539.00,524.57 L539.20,525.56 L539.41,526.54 L539.62,527.52 L539.82,528.50 L540.03,529.48 L540.24,530.46 L540.46,531.44 L540.67,532.42 L540.88,533.40 L541.10,534.38 L541.31,535.35 L541.53,536.33 L541.75,537.31 L541.96,538.28 L542.18,539.26 L542.40,540.23 L542.62,541.21 L542.84,542.18 L543.06,543.16 L543.29,544.13 L543.51,545.11 L543.74,546.08 L543.96,547.06 L544.19,548.04 L544.42,549.01 L544.66,549.99 L544.89,550.96 L545.13,551.94 L545.37,552.91 L545.61,553.89 L545.85,554.86 L546.09,555.84 L546.34,556.81 L546.59,557.79 L546.84,558.76 L547.09,559.73 L547.35,560.71 L547.60,561.68 L547.86,562.65 L548.12,563.62 L548.39,564.59 L548.65,565.56 L548.92,566.52 L549.20,567.49 L549.47,568.46 L549.75,569.42 L550.02,570.38 L550.31,571.35 L550.59,572.31 L550.88,573.27 L551.17,574.22 L551.46,575.18 L551.76,576.13 L552.06,577.09 L552.36,578.04 L552.66,578.99 L552.97,579.94 L553.28,580.89 L553.59,581.83 L553.91,582.77 L554.23,583.71 L554.55,584.65 L554.88,585.59 L555.21,586.53 L555.55,587.48 L555.88,588.42 L556.23,589.37 L556.57,590.31 L556.93,591.26 L557.28,592.21 L557.64,593.15 L558.01,594.10 L558.38,595.05 L558.75,595.99 L559.13,596.93 L559.51,597.87 L559.90,598.81 L560.30,599.75 L560.70,600.68 L561.10,601.61 L561.51,602.54 L561.92,603.47 L562.34,604.39 L562.77,605.30 L563.20,606.21 L563.63,607.12 L564.07,608.02 L564.52,608.92 L564.97,609.81 L565.43,610.69 L565.90,611.57 L566.37,612.44 L566.84,613.30 L567.32,614.16 L567.81,615.01 L568.31,615.85 L568.81,616.69 L569.32,617.51 L569.84,618.33 L570.38,619.15 L570.93,619.96 L571.50,620.77 L572.08,621.57 L572.67,622.37 L573.28,623.17 L573.90,623.96 L574.52,624.75 L575.16,625.53 L575.81,626.31 L576.46,627.08 L577.13,627.85 L577.80,628.61 L578.48,629.37 L579.17,630.12 L579.86,630.87 L580.56,631.61 L581.26,632.35 L581.97,633.08 L582.68,633.80 L583.39,634.53 L584.11,635.24 L584.82,635.95 L585.54,636.66 L586.26,637.36 L586.98,638.05 L587.70,638.74 L588.42,639.42 L589.13,640.10 L589.86,640.78 L590.59,641.45 L591.32,642.13 L592.06,642.80 L592.81,643.47 L593.56,644.14 L594.31,644.80 L595.07,645.46 L595.84,646.12 L596.61,646.78 L597.38,647.43 L598.16,648.07 L598.94,648.72 L599.73,649.35 L600.52,649.99 L601.32,650.62 L602.12,651.24 L602.92,651.85 L603.73,652.46 L604.54,653.07 L605.35,653.66 L606.17,654.26 L606.99,654.84 L607.81,655.41 L608.64,655.98 L609.47,656.54 L610.30,657.09 L611.14,657.63 L611.98,658.17 L612.82,658.69 L613.66,659.21 L614.51,659.71 L615.36,660.21 L616.21,660.69 L617.08,661.18 L617.94,661.65 L618.82,662.12 L619.70,662.58 L620.59,663.04 L621.48,663.48 L622.38,663.93 L623.28,664.37 L624.19,664.80 L625.10,665.23 L626.01,665.65 L626.93,666.06 L627.85,666.48 L628.77,666.88 L629.70,667.29 L630.63,667.69 L631.56,668.08 L632.49,668.47 L633.42,668.86 L634.35,669.24 L635.28,669.62 L636.22,670.00 L637.15,670.37 L638.08,670.74 L639.01,671.11 L639.94,671.48 L640.87,671.84 L641.80,672.20 L642.73,672.56 L643.67,672.92 L644.60,673.28 L645.54,673.63 L646.48,673.99 L647.42,674.34 L648.36,674.68 L649.31,675.03 L650.25,675.37 L651.20,675.70 L652.15,676.03 L653.10,676.36 L654.05,676.69 L655.00,677.01 L655.95,677.32 L656.91,677.63 L657.86,677.93 L658.82,678.23 L659.78,678.52 L660.74,678.81 L661.70,679.09 L662.66,679.36 L663.62,679.63 L664.58,679.89 L665.54,680.14 L666.51,680.39 L667.48,680.64 L668.44,680.89 L669.41,681.14 L670.39,681.38 L671.36,681.62 L672.33,681.86 L673.31,682.10 L674.29,682.33 L675.26,682.56 L676.24,682.78 L677.22,683.00 L678.20,683.22 L679.19,683.44 L680.17,683.65 L681.15,683.85 L682.14,684.05 L683.12,684.25 L684.11,684.44 L685.09,684.62 L686.08,684.80 L687.06,684.97 L688.05,685.14 L689.04,685.29 L690.03,685.45 L691.01,685.59 L692.00,685.73 L692.99,685.86 L693.98,685.99 L694.96,686.12 L695.95,686.25 L696.94,686.37 L697.93,686.49 L698.92,686.61 L699.92,686.73 L700.91,686.85 L701.90,686.96 L702.89,687.08 L703.89,687.19 L704.88,687.30 L705.88,687.40 L706.87,687.51 L707.86,687.61 L708.86,687.72 L709.86,687.82 L710.85,687.92 L711.85,688.02 L712.85,688.12 L713.84,688.21 L714.84,688.31 L715.84,688.40 L716.84,688.49 L717.84,688.58 L718.83,688.67 L719.83,688.76 L720.83,688.85 L721.83,688.93 L722.83,689.02 L723.83,689.10 L724.83,689.18 L725.83,689.27 L726.83,689.35 L727.83,689.43 L728.83,689.50 L729.83,689.58 L730.83,689.66 L731.83,689.73 L732.83,689.81 L733.83,689.88 L734.83,689.96 L735.83,690.03 L736.84,690.10 L737.84,690.17 L738.84,690.24 L739.84,690.31 L740.84,690.38 L741.84,690.45 L742.84,690.52 L743.84,690.59 L744.84,690.66 L745.84,690.72 L746.84,690.79 L747.83,690.86 L748.83,690.92 L749.83,690.99 L750.83,691.05 L751.83,691.12 L752.83,691.18 L753.83,691.25 L754.83,691.31 L755.82,691.38 L756.82,691.44 L757.82,691.50 L758.82,691.57 L759.82,691.63 L760.82,691.69 L761.82,691.75 L762.82,691.81 L763.82,691.87 L764.82,691.93 L765.82,691.99 L766.82,692.05 L767.82,692.11 L768.81,692.17 L769.81,692.23 L770.81,692.29 L771.81,692.34 L772.81,692.40 L773.81,692.46 L774.81,692.51 L775.81,692.57 L776.81,692.63 L777.81,692.68 L778.81,692.73 L779.81,692.79 L780.81,692.84 L781.81,692.90 L782.81,692.95 L783.81,693.00 L784.81,693.05 L785.81,693.10 L786.81,693.15 L787.81,693.20 L788.81,693.25 L789.82,693.30 L790.82,693.35 L791.82,693.40 L792.82,693.45 L793.82,693.50 L794.82,693.54 L795.82,693.59 L796.82,693.63 L797.82,693.68 L798.82,693.72 L799.82,693.77 L800.82,693.81 L801.82,693.85 L802.82,693.90 L803.82,693.94 L804.82,693.98 L805.82,694.02 L806.82,694.06 L807.82,694.10 L808.82,694.14 L809.82,694.18 L810.82,694.21 L811.83,694.25 L812.83,694.29 L813.83,694.32 L814.83,694.36 L815.83,694.39 L816.83,694.43 L817.83,694.46 L818.83,694.49 L819.83,694.53 L820.83,694.56 L821.83,694.59 L822.83,694.62 L823.83,694.65 L824.83,694.68 L825.83,694.72 L826.83,694.75 L827.83,694.78 L828.83,694.81 L829.84,694.84 L830.84,694.87 L831.84,694.90 L832.84,694.92 L833.84,694.95 L834.84,694.98 L835.84,695.01 L836.84,695.04 L837.84,695.07 L838.84,695.09 L839.84,695.12 L840.84,695.15 L841.84,695.18 L842.85,695.20 L843.85,695.23 L844.85,695.26 L845.85,695.28 L846.85,695.31 L847.85,695.33 L848.85,695.36 L849.85,695.38 L850.85,695.41 L851.85,695.43 L852.86,695.46 L853.86,695.48 L854.86,695.51 L855.86,695.53 L856.86,695.56 L857.86,695.58 L858.86,695.60 L859.86,695.63 L860.86,695.65 L861.86,695.67 L862.87,695.69 L863.87,695.72 L864.87,695.74 L865.87,695.76 L866.87,695.78 L867.87,695.80 L868.87,695.82 L869.87,695.85 L870.87,695.87 L871.88,695.89 L872.88,695.91 L873.88,695.93 L874.88,695.95 L875.88,695.97 L876.88,695.99 L877.88,696.01 L878.88,696.03 L879.89,696.05 L880.89,696.07 L881.89,696.09 L882.89,696.10 L883.89,696.12 L884.89,696.14 L885.89,696.16 L886.89,696.18 L887.89,696.20 L888.90,696.21 L889.90,696.23 L890.90,696.25 L891.90,696.27 L892.90,696.28 L893.90,696.30 L894.90,696.32 L895.90,696.33 L896.90,696.35 L897.91,696.37 L898.91,696.38 L899.91,696.40 L900.91,696.41 L901.91,696.43 L902.91,696.45 L903.91,696.46 L904.91,696.47 L905.91,696.49 L906.92,696.50 L907.92,696.52 L908.92,696.53 L909.92,696.54 L910.92,696.56 L911.92,696.57 L912.92,696.58 L913.92,696.60 L914.92,696.61 L915.93,696.62 L916.93,696.63 L917.93,696.65 L918.93,696.66 L919.93,696.67 L920.93,696.68 L921.93,696.69 L922.93,696.71 L923.94,696.72 L924.94,696.73 L925.94,696.74 L926.94,696.75 L927.94,696.76 L928.94,696.78 L929.94,696.79 L930.94,696.80 L931.94,696.81 L932.95,696.82 L933.95,696.83 L934.95,696.84 L935.95,696.86 L936.95,696.87 L937.95,696.88 L938.95,696.89 L939.95,696.90 L940.96,696.91 L941.96,696.93 L942.96,696.94 L943.96,696.95 L944.96,696.96 L945.96,696.97 L946.96,696.99 L947.96,697.00 L948.97,697.01 L949.97,697.03 L950.97,697.04 L951.97,697.05 L952.97,697.06 L953.97,697.08 L954.97,697.09 L955.97,697.10 L956.97,697.11 L957.98,697.13 L958.98,697.14 L959.98,697.15 L960.98,697.17 L961.98,697.18 L962.98,697.19 L963.98,697.20 L964.98,697.22 L965.98,697.23 L966.99,697.24 L967.99,697.26 L968.99,697.27 L969.99,697.28 L970.99,697.30 L971.99,697.31 L972.99,697.32 L973.99,697.33 L975.00,697.35 L976.00,697.36 L977.00,697.37 L978.00,697.39 L979.00,697.40" stroke="#2fac5c" stroke-width="2.4" stroke-dasharray="2.5 2.92"/>
<path d="M133.50,698.60 L134.51,698.59 L135.52,698.59 L136.53,698.58 L137.54,698.57 L138.54,698.57 L139.55,698.56 L140.56,698.55 L141.57,698.54 L142.58,698.53 L143.59,698.52 L144.60,698.51 L145.61,698.50 L146.62,698.49 L147.63,698.47 L148.63,698.46 L149.64,698.45 L150.65,698.44 L151.66,698.42 L152.67,698.41 L153.68,698.39 L154.69,698.38 L155.70,698.36 L156.70,698.35 L157.71,698.33 L158.72,698.32 L159.73,698.30 L160.74,698.29 L161.75,698.27 L162.76,698.25 L163.77,698.23 L164.77,698.22 L165.78,698.19 L166.79,698.17 L167.80,698.15 L168.81,698.13 L169.82,698.10 L170.83,698.08 L171.84,698.05 L172.84,698.03 L173.85,698.00 L174.86,697.98 L175.87,697.95 L176.88,697.92 L177.89,697.89 L178.90,697.87 L179.90,697.84 L180.91,697.81 L181.92,697.78 L182.93,697.75 L183.94,697.73 L184.95,697.70 L185.96,697.67 L186.96,697.64 L187.97,697.61 L188.98,697.58 L189.99,697.55 L191.00,697.53 L192.01,697.50 L193.02,697.47 L194.02,697.45 L195.03,697.42 L196.04,697.39 L197.05,697.37 L198.06,697.34 L199.07,697.31 L200.08,697.29 L201.08,697.26 L202.09,697.23 L203.10,697.20 L204.11,697.17 L205.12,697.15 L206.13,697.12 L207.14,697.09 L208.14,697.05 L209.15,697.02 L210.16,696.99 L211.17,696.95 L212.18,696.92 L213.19,696.88 L214.19,696.84 L215.20,696.81 L216.21,696.76 L217.22,696.72 L218.23,696.68 L219.23,696.64 L220.24,696.59 L221.25,696.54 L222.26,696.50 L223.27,696.45 L224.27,696.40 L225.28,696.35 L226.29,696.29 L227.30,696.24 L228.30,696.19 L229.31,696.13 L230.32,696.07 L231.33,696.02 L232.33,695.96 L233.34,695.90 L234.35,695.84 L235.35,695.77 L236.36,695.71 L237.37,695.64 L238.37,695.57 L239.38,695.50 L240.39,695.43 L241.39,695.36 L242.40,695.29 L243.41,695.21 L244.41,695.13 L245.42,695.05 L246.43,694.97 L247.43,694.88 L248.44,694.80 L249.44,694.71 L250.45,694.62 L251.45,694.54 L252.46,694.44 L253.46,694.35 L254.46,694.26 L255.47,694.16 L256.47,694.06 L257.48,693.96 L258.48,693.86 L259.49,693.76 L260.49,693.66 L261.50,693.55 L262.50,693.44 L263.51,693.33 L264.51,693.21 L265.52,693.09 L266.52,692.97 L267.52,692.85 L268.52,692.71 L269.52,692.58 L270.52,692.44 L271.52,692.30 L272.51,692.15 L273.51,691.99 L274.50,691.83 L275.49,691.66 L276.48,691.48 L277.47,691.28 L278.46,691.07 L279.44,690.84 L280.43,690.61 L281.41,690.36 L282.39,690.11 L283.36,689.85 L284.34,689.58 L285.30,689.31 L286.27,689.04 L287.24,688.74 L288.20,688.44 L289.17,688.13 L290.13,687.80 L291.08,687.47 L292.03,687.13 L292.98,686.77 L293.92,686.40 L294.85,686.03 L295.78,685.64 L296.70,685.24 L297.62,684.83 L298.55,684.40 L299.46,683.96 L300.38,683.50 L301.28,683.03 L302.17,682.55 L303.05,682.05 L303.92,681.53 L304.77,681.01 L305.60,680.47 L306.41,679.90 L307.21,679.31 L308.00,678.70 L308.77,678.05 L309.53,677.39 L310.28,676.71 L311.03,676.02 L311.77,675.32 L312.50,674.61 L313.23,673.90 L313.96,673.18 L314.68,672.47 L315.41,671.76 L316.14,671.07 L316.87,670.37 L317.59,669.66 L318.31,668.96 L319.02,668.24 L319.73,667.52 L320.44,666.80 L321.13,666.07 L321.82,665.33 L322.48,664.57 L323.14,663.80 L323.81,663.04 L324.50,662.30 L325.21,661.60 L325.95,660.92 L326.72,660.26 L327.50,659.62 L328.30,659.00 L328.50,659.00 L330.30,78.00 L331.80,78.00 L334.00,694.00 L334.30,696.20 L334.65,697.35 L335.00,698.52 L335.40,699.18 L335.88,699.20 L336.38,699.20 L336.89,699.20 L337.42,699.20 L337.97,699.20 L338.52,699.20 L339.10,699.20 L339.69,699.20 L340.29,699.20 L340.91,699.20 L341.54,699.20 L342.18,699.20 L342.84,699.20 L343.51,699.20 L344.20,699.20 L344.90,699.20 L345.61,699.20 L346.34,699.20 L347.08,699.20 L347.83,699.20 L348.59,699.20 L349.37,699.20 L350.15,699.20 L350.95,699.20 L351.77,699.20 L352.59,699.20 L353.42,699.20 L354.27,699.20 L355.12,699.20 L355.99,699.20 L356.87,699.20 L357.76,699.20 L358.65,699.20 L359.56,699.20 L360.48,699.20 L361.41,699.20 L362.34,699.20 L363.29,699.20 L364.25,699.20 L365.21,699.20 L366.19,699.20 L367.17,699.20 L368.16,699.20 L369.16,699.20 L370.16,699.20 L371.18,699.20 L372.20,699.20 L373.23,699.20 L374.27,699.20 L375.31,699.20 L376.37,699.20 L377.43,699.20 L378.49,699.20 L379.56,699.20 L380.64,699.20 L381.72,699.20 L382.81,699.20 L383.91,699.20 L385.01,699.20 L386.12,699.20 L387.23,699.20 L388.35,699.20 L389.47,699.20 L390.60,699.20 L391.73,699.20 L392.86,699.20 L394.00,699.20 L395.15,699.20 L396.29,699.20 L397.45,699.20 L398.60,699.20 L399.76,699.20 L400.92,699.20 L402.08,699.20 L403.25,699.20 L404.42,699.20 L405.59,699.20 L406.76,699.20 L407.94,699.20 L409.11,699.20 L410.29,699.20 L411.47,699.20 L412.65,699.20 L413.84,699.20 L415.02,699.20 L416.20,699.20 L417.39,699.20 L418.57,699.20 L419.76,699.20 L420.94,699.20 L422.13,699.20 L423.31,699.20 L424.50,699.20 L425.68,699.20 L426.87,699.20 L428.05,699.20 L429.23,699.20 L430.41,699.20 L431.58,699.20 L432.76,699.20 L433.93,699.20 L435.10,699.20 L436.27,699.20 L437.44,699.20 L438.60,699.20 L439.77,699.20 L440.92,699.20 L442.08,699.20 L443.23,699.20 L444.38,699.20 L445.52,699.20 L446.66,699.20 L447.80,699.20 L448.93,699.20 L450.06,699.20 L451.18,699.20 L452.30,699.20 L453.41,699.20 L454.52,699.20 L455.62,699.20 L456.72,699.20 L457.81,699.20 L458.89,699.20 L459.97,699.20 L461.05,699.20 L462.11,699.20 L463.17,699.20 L464.22,699.20 L465.27,699.20 L466.31,699.20 L467.34,699.20 L468.36,699.20 L469.38,699.20 L470.39,699.20 L471.40,699.21 L472.41,699.22 L473.42,699.24 L474.44,699.27 L475.45,699.30 L476.47,699.34 L477.48,699.38 L478.50,699.43 L479.51,699.49 L480.52,699.55 L481.52,699.62 L482.52,699.70 L483.52,699.78 L484.52,699.86 L485.50,699.95 L486.49,700.06 L487.50,700.23 L488.50,700.47 L489.50,700.77 L490.47,701.12 L491.38,701.51 L492.24,701.92 L493.04,702.46 L493.80,703.13 L494.52,703.88 L495.20,704.70 L495.60,704.00 L497.00,300.00 L498.20,77.50 L498.90,77.50 L499.03,78.49 L499.15,79.49 L499.28,80.48 L499.40,81.48 L499.52,82.47 L499.65,83.47 L499.77,84.46 L499.89,85.46 L500.01,86.45 L500.13,87.45 L500.25,88.44 L500.37,89.44 L500.48,90.43 L500.60,91.43 L500.71,92.42 L500.82,93.42 L500.94,94.41 L501.05,95.41 L501.16,96.41 L501.26,97.40 L501.37,98.40 L501.48,99.39 L501.58,100.39 L501.68,101.39 L501.78,102.38 L501.88,103.38 L501.98,104.38 L502.08,105.37 L502.17,106.37 L502.26,107.37 L502.35,108.36 L502.44,109.36 L502.53,110.36 L502.62,111.36 L502.70,112.35 L502.79,113.35 L502.87,114.35 L502.95,115.35 L503.03,116.35 L503.11,117.34 L503.19,118.34 L503.27,119.34 L503.35,120.34 L503.42,121.34 L503.50,122.34 L503.57,123.34 L503.65,124.34 L503.72,125.33 L503.80,126.33 L503.87,127.33 L503.94,128.33 L504.01,129.33 L504.08,130.33 L504.15,131.33 L504.22,132.33 L504.29,133.33 L504.35,134.33 L504.42,135.33 L504.49,136.33 L504.56,137.33 L504.62,138.33 L504.69,139.33 L504.75,140.33 L504.82,141.33 L504.88,142.33 L504.95,143.33 L505.01,144.33 L505.08,145.33 L505.14,146.33 L505.20,147.33 L505.27,148.33 L505.33,149.33 L505.39,150.33 L505.45,151.33 L505.52,152.33 L505.58,153.33 L505.64,154.33 L505.71,155.33 L505.77,156.33 L505.83,157.33 L505.89,158.33 L505.96,159.33 L506.02,160.33 L506.08,161.33 L506.15,162.33 L506.21,163.33 L506.27,164.33 L506.33,165.33 L506.39,166.33 L506.45,167.33 L506.51,168.33 L506.57,169.33 L506.63,170.33 L506.69,171.33 L506.75,172.33 L506.80,173.33 L506.86,174.33 L506.92,175.33 L506.98,176.33 L507.03,177.33 L507.09,178.33 L507.15,179.33 L507.20,180.33 L507.26,181.33 L507.31,182.33 L507.37,183.33 L507.42,184.33 L507.48,185.33 L507.53,186.33 L507.59,187.33 L507.64,188.33 L507.69,189.33 L507.75,190.33 L507.80,191.33 L507.85,192.33 L507.91,193.34 L507.96,194.34 L508.01,195.34 L508.06,196.34 L508.11,197.34 L508.17,198.34 L508.22,199.34 L508.27,200.34 L508.32,201.34 L508.37,202.34 L508.43,203.34 L508.48,204.34 L508.53,205.34 L508.58,206.34 L508.63,207.34 L508.68,208.34 L508.73,209.35 L508.78,210.35 L508.84,211.35 L508.89,212.35 L508.94,213.35 L508.99,214.35 L509.04,215.35 L509.09,216.35 L509.14,217.35 L509.19,218.35 L509.25,219.35 L509.30,220.35 L509.35,221.35 L509.40,222.35 L509.45,223.35 L509.50,224.35 L509.55,225.36 L509.61,226.36 L509.66,227.36 L509.71,228.36 L509.76,229.36 L509.81,230.36 L509.87,231.36 L509.92,232.36 L509.97,233.36 L510.03,234.36 L510.08,235.36 L510.13,236.36 L510.19,237.36 L510.24,238.36 L510.29,239.36 L510.35,240.36 L510.40,241.36 L510.46,242.36 L510.51,243.36 L510.57,244.36 L510.62,245.36 L510.68,246.36 L510.73,247.36 L510.79,248.36 L510.85,249.36 L510.90,250.36 L510.96,251.36 L511.02,252.36 L511.08,253.37 L511.14,254.37 L511.19,255.36 L511.25,256.36 L511.31,257.36 L511.37,258.36 L511.43,259.36 L511.49,260.36 L511.55,261.36 L511.62,262.36 L511.68,263.36 L511.74,264.36 L511.80,265.36 L511.87,266.36 L511.93,267.36 L511.99,268.36 L512.06,269.36 L512.12,270.36 L512.19,271.36 L512.25,272.36 L512.32,273.36 L512.39,274.36 L512.46,275.36 L512.52,276.36 L512.59,277.35 L512.66,278.35 L512.73,279.35 L512.80,280.35 L512.87,281.35 L512.95,282.35 L513.02,283.35 L513.09,284.35 L513.16,285.35 L513.24,286.35 L513.31,287.34 L513.39,288.34 L513.46,289.34 L513.54,290.34 L513.61,291.34 L513.69,292.34 L513.77,293.34 L513.85,294.34 L513.92,295.33 L514.00,296.33 L514.08,297.33 L514.16,298.33 L514.24,299.33 L514.32,300.33 L514.40,301.33 L514.48,302.32 L514.56,303.32 L514.65,304.32 L514.73,305.32 L514.81,306.32 L514.90,307.32 L514.98,308.31 L515.06,309.31 L515.15,310.31 L515.23,311.31 L515.32,312.31 L515.40,313.31 L515.49,314.30 L515.57,315.30 L515.66,316.30 L515.75,317.30 L515.83,318.30 L515.92,319.29 L516.01,320.29 L516.10,321.29 L516.18,322.29 L516.27,323.29 L516.36,324.28 L516.45,325.28 L516.54,326.28 L516.63,327.28 L516.72,328.28 L516.81,329.27 L516.90,330.27 L516.99,331.27 L517.08,332.27 L517.17,333.27 L517.26,334.26 L517.35,335.26 L517.44,336.26 L517.53,337.26 L517.62,338.25 L517.72,339.25 L517.81,340.25 L517.90,341.25 L517.99,342.25 L518.08,343.24 L518.18,344.24 L518.27,345.24 L518.36,346.24 L518.45,347.23 L518.55,348.23 L518.64,349.23 L518.73,350.23 L518.82,351.23 L518.92,352.22 L519.01,353.22 L519.10,354.22 L519.20,355.22 L519.29,356.21 L519.38,357.21 L519.47,358.21 L519.57,359.21 L519.66,360.20 L519.75,361.20 L519.85,362.20 L519.94,363.20 L520.03,364.19 L520.13,365.19 L520.22,366.19 L520.31,367.19 L520.41,368.18 L520.50,369.18 L520.59,370.18 L520.68,371.18 L520.78,372.17 L520.87,373.17 L520.96,374.17 L521.05,375.17 L521.15,376.17 L521.24,377.16 L521.33,378.16 L521.42,379.16 L521.51,380.16 L521.61,381.15 L521.70,382.15 L521.79,383.15 L521.88,384.15 L521.97,385.14 L522.06,386.14 L522.15,387.14 L522.23,388.14 L522.32,389.14 L522.41,390.14 L522.50,391.14 L522.59,392.13 L522.67,393.13 L522.76,394.13 L522.85,395.13 L522.93,396.13 L523.02,397.13 L523.10,398.13 L523.19,399.13 L523.28,400.13 L523.36,401.13 L523.45,402.13 L523.53,403.13 L523.62,404.13 L523.70,405.13 L523.79,406.12 L523.87,407.12 L523.96,408.12 L524.04,409.12 L524.12,410.12 L524.21,411.12 L524.29,412.12 L524.38,413.12 L524.46,414.12 L524.55,415.12 L524.63,416.12 L524.72,417.12 L524.80,418.12 L524.89,419.12 L524.97,420.12 L525.06,421.12 L525.15,422.12 L525.23,423.12 L525.32,424.12 L525.40,425.12 L525.49,426.12 L525.58,427.12 L525.66,428.12 L525.75,429.12 L525.84,430.12 L525.93,431.12 L526.01,432.12 L526.10,433.11 L526.19,434.11 L526.28,435.11 L526.37,436.11 L526.46,437.11 L526.55,438.11 L526.64,439.11 L526.73,440.11 L526.83,441.11 L526.92,442.10 L527.01,443.10 L527.10,444.10 L527.20,445.10 L527.29,446.10 L527.39,447.09 L527.48,448.09 L527.58,449.09 L527.67,450.09 L527.77,451.09 L527.87,452.08 L527.97,453.08 L528.07,454.08 L528.17,455.07 L528.27,456.07 L528.37,457.07 L528.47,458.06 L528.57,459.06 L528.68,460.06 L528.78,461.05 L528.89,462.05 L528.99,463.04 L529.10,464.04 L529.21,465.03 L529.31,466.03 L529.42,467.02 L529.53,468.02 L529.64,469.01 L529.76,470.01 L529.87,471.00 L529.98,471.99 L530.10,472.99 L530.21,473.98 L530.33,474.97 L530.45,475.97 L530.57,476.96 L530.68,477.95 L530.81,478.95 L530.93,479.94 L531.05,480.93 L531.17,481.92 L531.30,482.91 L531.42,483.90 L531.55,484.89 L531.68,485.88 L531.81,486.87 L531.94,487.86 L532.07,488.85 L532.21,489.84 L532.34,490.83 L532.48,491.82 L532.61,492.81 L532.75,493.80 L532.90,494.79 L533.04,495.78 L533.19,496.76 L533.35,497.75 L533.50,498.74 L533.66,499.73 L533.83,500.72 L533.99,501.70 L534.16,502.69 L534.33,503.68 L534.50,504.67 L534.68,505.65 L534.85,506.64 L535.03,507.63 L535.22,508.61 L535.40,509.60 L535.59,510.58 L535.78,511.57 L535.97,512.55 L536.17,513.54 L536.36,514.52 L536.56,515.51 L536.76,516.49 L536.96,517.48 L537.17,518.46 L537.37,519.44 L537.58,520.42 L537.79,521.41 L538.00,522.39 L538.21,523.37 L538.43,524.35 L538.64,525.33 L538.86,526.31 L539.08,527.29 L539.30,528.27 L539.52,529.25 L539.74,530.23 L539.96,531.20 L540.19,532.18 L540.41,533.16 L540.64,534.13 L540.87,535.11 L541.10,536.08 L541.33,537.06 L541.56,538.03 L541.79,539.01 L542.02,539.98 L542.25,540.95 L542.48,541.92 L542.72,542.90 L542.95,543.87 L543.19,544.84 L543.43,545.81 L543.67,546.78 L543.91,547.76 L544.16,548.73 L544.41,549.70 L544.66,550.67 L544.91,551.64 L545.16,552.62 L545.42,553.59 L545.68,554.56 L545.94,555.53 L546.20,556.50 L546.46,557.47 L546.73,558.44 L547.00,559.41 L547.27,560.38 L547.55,561.34 L547.82,562.31 L548.10,563.28 L548.38,564.24 L548.67,565.21 L548.96,566.17 L549.24,567.13 L549.54,568.09 L549.83,569.05 L550.13,570.01 L550.43,570.97 L550.73,571.93 L551.03,572.88 L551.34,573.83 L551.65,574.79 L551.96,575.74 L552.28,576.69 L552.59,577.64 L552.91,578.58 L553.24,579.53 L553.56,580.47 L553.89,581.41 L554.23,582.35 L554.56,583.29 L554.90,584.22 L555.24,585.16 L555.58,586.09 L555.93,587.03 L556.28,587.97 L556.64,588.91 L557.00,589.85 L557.36,590.79 L557.73,591.74 L558.10,592.68 L558.47,593.62 L558.85,594.56 L559.24,595.50 L559.63,596.44 L560.02,597.38 L560.42,598.32 L560.82,599.25 L561.23,600.18 L561.64,601.11 L562.05,602.04 L562.48,602.96 L562.90,603.88 L563.33,604.79 L563.77,605.70 L564.22,606.60 L564.66,607.50 L565.12,608.40 L565.58,609.29 L566.04,610.17 L566.51,611.04 L566.99,611.91 L567.48,612.78 L567.96,613.63 L568.46,614.48 L568.96,615.32 L569.47,616.15 L569.99,616.98 L570.51,617.79 L571.05,618.61 L571.60,619.42 L572.17,620.23 L572.75,621.03 L573.34,621.83 L573.95,622.63 L574.56,623.42 L575.19,624.21 L575.83,625.00 L576.47,625.78 L577.13,626.55 L577.80,627.32 L578.47,628.08 L579.15,628.84 L579.84,629.60 L580.53,630.34 L581.23,631.09 L581.94,631.82 L582.65,632.55 L583.37,633.27 L584.09,633.99 L584.81,634.70 L585.54,635.40 L586.27,636.09 L587.00,636.78 L587.74,637.46 L588.47,638.13 L589.21,638.79 L589.94,639.45 L590.68,640.10 L591.43,640.75 L592.18,641.39 L592.94,642.03 L593.71,642.67 L594.48,643.31 L595.26,643.94 L596.05,644.57 L596.84,645.19 L597.64,645.81 L598.45,646.43 L599.26,647.04 L600.07,647.64 L600.89,648.24 L601.72,648.83 L602.55,649.42 L603.38,650.00 L604.22,650.57 L605.06,651.13 L605.91,651.69 L606.76,652.24 L607.61,652.78 L608.47,653.31 L609.33,653.83 L610.19,654.34 L611.05,654.85 L611.92,655.34 L612.79,655.82 L613.66,656.29 L614.53,656.76 L615.40,657.21 L616.28,657.65 L617.17,658.08 L618.06,658.51 L618.96,658.93 L619.87,659.34 L620.78,659.75 L621.70,660.15 L622.62,660.54 L623.54,660.93 L624.47,661.31 L625.40,661.69 L626.34,662.06 L627.28,662.43 L628.22,662.79 L629.17,663.15 L630.11,663.50 L631.06,663.85 L632.01,664.20 L632.96,664.54 L633.91,664.88 L634.86,665.22 L635.81,665.55 L636.76,665.88 L637.71,666.21 L638.66,666.54 L639.61,666.86 L640.55,667.19 L641.50,667.51 L642.45,667.83 L643.40,668.15 L644.35,668.46 L645.30,668.77 L646.25,669.08 L647.21,669.38 L648.16,669.68 L649.12,669.98 L650.08,670.28 L651.04,670.57 L652.00,670.87 L652.96,671.15 L653.92,671.44 L654.88,671.72 L655.85,672.00 L656.81,672.28 L657.78,672.55 L658.74,672.82 L659.71,673.09 L660.67,673.35 L661.64,673.62 L662.61,673.87 L663.58,674.13 L664.54,674.38 L665.51,674.63 L666.48,674.88 L667.45,675.14 L668.42,675.39 L669.39,675.64 L670.36,675.90 L671.34,676.15 L672.31,676.40 L673.28,676.65 L674.26,676.90 L675.23,677.15 L676.21,677.39 L677.18,677.64 L678.16,677.88 L679.14,678.11 L680.11,678.35 L681.09,678.57 L682.07,678.80 L683.05,679.02 L684.03,679.23 L685.01,679.44 L685.99,679.64 L686.97,679.83 L687.96,680.02 L688.94,680.20 L689.92,680.37 L690.91,680.54 L691.89,680.70 L692.88,680.84 L693.87,680.98 L694.85,681.11 L695.84,681.24 L696.83,681.37 L697.82,681.49 L698.81,681.62 L699.80,681.74 L700.79,681.85 L701.78,681.97 L702.77,682.08 L703.77,682.20 L704.76,682.31 L705.75,682.41 L706.75,682.52 L707.74,682.62 L708.74,682.73 L709.73,682.83 L710.73,682.92 L711.73,683.02 L712.72,683.12 L713.72,683.21 L714.72,683.30 L715.72,683.40 L716.72,683.49 L717.72,683.57 L718.72,683.66 L719.72,683.75 L720.72,683.83 L721.72,683.92 L722.72,684.00 L723.72,684.08 L724.72,684.16 L725.72,684.24 L726.72,684.32 L727.72,684.40 L728.72,684.47 L729.72,684.55 L730.73,684.62 L731.73,684.70 L732.73,684.77 L733.73,684.85 L734.73,684.92 L735.73,684.99 L736.74,685.06 L737.74,685.14 L738.74,685.21 L739.74,685.28 L740.74,685.35 L741.74,685.42 L742.74,685.49 L743.74,685.56 L744.74,685.63 L745.74,685.70 L746.74,685.77 L747.74,685.84 L748.74,685.91 L749.74,685.98 L750.74,686.05 L751.74,686.12 L752.74,686.19 L753.74,686.26 L754.74,686.33 L755.74,686.40 L756.74,686.47 L757.74,686.54 L758.74,686.61 L759.73,686.68 L760.73,686.75 L761.73,686.82 L762.73,686.88 L763.73,686.95 L764.73,687.02 L765.73,687.09 L766.73,687.15 L767.73,687.22 L768.73,687.29 L769.73,687.35 L770.73,687.42 L771.73,687.48 L772.73,687.55 L773.73,687.61 L774.73,687.68 L775.73,687.74 L776.73,687.80 L777.73,687.87 L778.73,687.93 L779.73,687.99 L780.73,688.05 L781.73,688.11 L782.73,688.17 L783.73,688.23 L784.73,688.29 L785.73,688.35 L786.73,688.41 L787.73,688.47 L788.73,688.53 L789.73,688.58 L790.73,688.64 L791.73,688.70 L792.73,688.75 L793.74,688.81 L794.74,688.86 L795.74,688.92 L796.74,688.97 L797.74,689.02 L798.74,689.08 L799.74,689.13 L800.74,689.18 L801.74,689.23 L802.74,689.28 L803.74,689.33 L804.74,689.38 L805.74,689.43 L806.74,689.47 L807.74,689.52 L808.74,689.57 L809.74,689.61 L810.75,689.66 L811.75,689.70 L812.75,689.74 L813.75,689.79 L814.75,689.83 L815.75,689.87 L816.75,689.91 L817.75,689.95 L818.75,689.99 L819.75,690.03 L820.75,690.07 L821.75,690.10 L822.75,690.14 L823.76,690.18 L824.76,690.22 L825.76,690.25 L826.76,690.29 L827.76,690.33 L828.76,690.36 L829.76,690.40 L830.76,690.43 L831.76,690.47 L832.76,690.51 L833.77,690.54 L834.77,690.57 L835.77,690.61 L836.77,690.64 L837.77,690.68 L838.77,690.71 L839.77,690.74 L840.77,690.78 L841.78,690.81 L842.78,690.84 L843.78,690.87 L844.78,690.91 L845.78,690.94 L846.78,690.97 L847.78,691.00 L848.78,691.03 L849.79,691.06 L850.79,691.09 L851.79,691.12 L852.79,691.15 L853.79,691.18 L854.79,691.21 L855.79,691.24 L856.80,691.27 L857.80,691.30 L858.80,691.33 L859.80,691.36 L860.80,691.39 L861.80,691.41 L862.81,691.44 L863.81,691.47 L864.81,691.50 L865.81,691.52 L866.81,691.55 L867.81,691.58 L868.81,691.60 L869.82,691.63 L870.82,691.65 L871.82,691.68 L872.82,691.70 L873.82,691.73 L874.82,691.75 L875.83,691.78 L876.83,691.80 L877.83,691.83 L878.83,691.85 L879.83,691.87 L880.83,691.90 L881.84,691.92 L882.84,691.94 L883.84,691.97 L884.84,691.99 L885.84,692.01 L886.84,692.03 L887.85,692.06 L888.85,692.08 L889.85,692.10 L890.85,692.12 L891.85,692.14 L892.85,692.16 L893.86,692.18 L894.86,692.20 L895.86,692.22 L896.86,692.24 L897.86,692.26 L898.86,692.28 L899.86,692.30 L900.87,692.32 L901.87,692.33 L902.87,692.35 L903.87,692.37 L904.87,692.39 L905.87,692.41 L906.88,692.42 L907.88,692.44 L908.88,692.46 L909.88,692.47 L910.88,692.49 L911.88,692.50 L912.89,692.52 L913.89,692.53 L914.89,692.55 L915.89,692.56 L916.89,692.58 L917.89,692.59 L918.90,692.61 L919.90,692.62 L920.90,692.64 L921.90,692.65 L922.90,692.67 L923.90,692.68 L924.91,692.69 L925.91,692.71 L926.91,692.72 L927.91,692.73 L928.91,692.75 L929.92,692.76 L930.92,692.77 L931.92,692.79 L932.92,692.80 L933.92,692.81 L934.92,692.83 L935.93,692.84 L936.93,692.85 L937.93,692.87 L938.93,692.88 L939.93,692.89 L940.93,692.91 L941.94,692.92 L942.94,692.93 L943.94,692.95 L944.94,692.96 L945.94,692.97 L946.94,692.99 L947.95,693.00 L948.95,693.01 L949.95,693.03 L950.95,693.04 L951.95,693.05 L952.96,693.07 L953.96,693.08 L954.96,693.09 L955.96,693.11 L956.96,693.12 L957.96,693.13 L958.97,693.15 L959.97,693.16 L960.97,693.17 L961.97,693.19 L962.97,693.20 L963.97,693.21 L964.98,693.22 L965.98,693.24 L966.98,693.25 L967.98,693.26 L968.98,693.28 L969.98,693.29 L970.99,693.30 L971.99,693.31 L972.99,693.33 L973.99,693.34 L974.99,693.35 L975.99,693.36 L977.00,693.38 L978.00,693.39 L979.00,693.40" stroke="#a968e2" stroke-width="2.4" stroke-dasharray="10.2 4 2.4 4.1"/>
</g>
<rect x="131.7" y="48.8" width="849.50" height="684.80" fill="none" stroke="#000" stroke-width="4.4"/>
<g stroke="#000" stroke-width="4.8">
<line x1="131.7" y1="698.70" x2="144.7" y2="698.70"/>
<line x1="131.7" y1="630.14" x2="144.7" y2="630.14"/>
<line x1="131.7" y1="561.58" x2="144.7" y2="561.58"/>
<line x1="131.7" y1="493.02" x2="144.7" y2="493.02"/>
<line x1="131.7" y1="424.46" x2="144.7" y2="424.46"/>
<line x1="131.7" y1="355.90" x2="144.7" y2="355.90"/>
<line x1="131.7" y1="287.34" x2="144.7" y2="287.34"/>
<line x1="131.7" y1="218.78" x2="144.7" y2="218.78"/>
<line x1="131.7" y1="150.22" x2="144.7" y2="150.22"/>
<line x1="131.7" y1="81.66" x2="144.7" y2="81.66"/>
<line x1="273.25" y1="733.6" x2="273.25" y2="719.6"/>
<line x1="414.80" y1="733.6" x2="414.80" y2="719.6"/>
<line x1="556.35" y1="733.6" x2="556.35" y2="719.6"/>
<line x1="697.90" y1="733.6" x2="697.90" y2="719.6"/>
<line x1="839.45" y1="733.6" x2="839.45" y2="719.6"/>
</g>
<text x="117.0" y="712.00" font-size="45.0" text-anchor="end" textLength="58.9" lengthAdjust="spacingAndGlyphs">0.0</text>
<text x="117.0" y="643.44" font-size="45.0" text-anchor="end" textLength="58.9" lengthAdjust="spacingAndGlyphs">0.2</text>
<text x="117.0" y="574.88" font-size="45.0" text-anchor="end" textLength="58.9" lengthAdjust="spacingAndGlyphs">0.4</text>
<text x="117.0" y="506.32" font-size="45.0" text-anchor="end" textLength="58.9" lengthAdjust="spacingAndGlyphs">0.6</text>
<text x="117.0" y="437.76" font-size="45.0" text-anchor="end" textLength="58.9" lengthAdjust="spacingAndGlyphs">0.8</text>
<text x="117.0" y="369.20" font-size="45.0" text-anchor="end" textLength="58.9" lengthAdjust="spacingAndGlyphs">1.0</text>
<text x="117.0" y="300.64" font-size="45.0" text-anchor="end" textLength="58.9" lengthAdjust="spacingAndGlyphs">1.2</text>
<text x="117.0" y="232.08" font-size="45.0" text-anchor="end" textLength="58.9" lengthAdjust="spacingAndGlyphs">1.4</text>
<text x="117.0" y="163.52" font-size="45.0" text-anchor="end" textLength="58.9" lengthAdjust="spacingAndGlyphs">1.6</text>
<text x="117.0" y="94.96" font-size="43.6" text-anchor="end" textLength="58.9" lengthAdjust="spacingAndGlyphs">1.8</text>
<text x="131.20" y="781.5" font-size="45.0" text-anchor="middle" textLength="47.4" lengthAdjust="spacingAndGlyphs">98</text>
<text x="272.75" y="781.5" font-size="45.0" text-anchor="middle" textLength="47.4" lengthAdjust="spacingAndGlyphs">99</text>
<text x="414.30" y="781.5" font-size="45.0" text-anchor="middle" textLength="70.6" lengthAdjust="spacingAndGlyphs">100</text>
<text x="555.85" y="781.5" font-size="45.0" text-anchor="middle" textLength="70.6" lengthAdjust="spacingAndGlyphs">101</text>
<text x="697.40" y="781.5" font-size="45.0" text-anchor="middle" textLength="70.6" lengthAdjust="spacingAndGlyphs">102</text>
<text x="838.95" y="781.5" font-size="45.0" text-anchor="middle" textLength="70.6" lengthAdjust="spacingAndGlyphs">103</text>
<text x="980.50" y="781.5" font-size="45.0" text-anchor="middle" textLength="70.6" lengthAdjust="spacingAndGlyphs">104</text>
<text x="132.2" y="38.5" font-size="45.0" textLength="71.5" lengthAdjust="spacingAndGlyphs">×10</text>
<text x="203.0" y="21.3" font-size="29.5" textLength="31" lengthAdjust="spacingAndGlyphs">−4</text>
<text x="557" y="850.0" font-size="46.5" text-anchor="middle" textLength="281" lengthAdjust="spacingAndGlyphs">Position (mm)</text>
<g transform="translate(42.0,391.0) rotate(-90)"><text x="0" y="0" font-size="47.6" text-anchor="middle" textLength="447" lengthAdjust="spacingAndGlyphs">Current density (A/m<tspan font-size="31" dy="-19.3">2</tspan><tspan dy="19.3" dx="-1">)</tspan></text></g>
<line x1="695.4" y1="85.1" x2="783.6" y2="85.1" stroke="#3d3d3d" stroke-width="2.5"/>
<text x="793.2" y="98.6" font-size="40.5" text-anchor="start" textLength="95.0" lengthAdjust="spacingAndGlyphs">40 ns</text>
<line x1="695.4" y1="132.9" x2="783.6" y2="132.9" stroke="#f03a3a" stroke-width="2.5" stroke-dasharray="12 7 3 7.5 3 7.2"/>
<text x="793.2" y="146.2" font-size="40.5" text-anchor="start" textLength="116.0" lengthAdjust="spacingAndGlyphs">100 ns</text>
<line x1="695.4" y1="180.9" x2="783.6" y2="180.9" stroke="#1565e0" stroke-width="2.5" stroke-dasharray="6.3 5.7"/>
<text x="793.2" y="194.29999999999998" font-size="40.5" text-anchor="start" textLength="116.0" lengthAdjust="spacingAndGlyphs">600 ns</text>
<line x1="695.4" y1="227.8" x2="779.3" y2="227.8" stroke="#2fac5c" stroke-width="2.5" stroke-dasharray="2.5 2.92"/>
<text x="793.2" y="241.29999999999998" font-size="40.5" text-anchor="start" textLength="137.5" lengthAdjust="spacingAndGlyphs">9300 ns</text>
<line x1="695.4" y1="275.5" x2="783.6" y2="275.5" stroke="#a968e2" stroke-width="2.5" stroke-dasharray="10.2 4 2.4 4.1"/>
<text x="793.2" y="288.6" font-size="40.5" text-anchor="start" textLength="158.6" lengthAdjust="spacingAndGlyphs">36500 ns</text>
<rect x="621.6" y="343.8" width="277.4" height="288.0" fill="none" stroke="#f03a3a" stroke-width="2.7" stroke-dasharray="2.7 2.72"/>
<text x="760.5" y="396.8" font-size="39" text-anchor="middle" textLength="131" lengthAdjust="spacingAndGlyphs" fill="#f03a3a">Defects</text>
<path d="M680.00,612.80 L681.51,612.46 L682.94,611.97 L684.27,611.36 L685.54,610.55 L686.73,609.56 L687.77,608.51 L688.73,607.35 L689.61,606.08 L690.36,604.77 L691.00,603.43 L691.59,602.03 L692.09,600.59 L692.47,599.13 L692.76,597.68 L693.01,596.20 L693.23,594.71 L693.43,593.21 L693.60,591.70 L693.77,590.20 L693.93,588.69 L694.08,587.19 L694.23,585.70 L694.37,584.20 L694.50,582.70 L694.63,581.19 L694.75,579.69 L694.86,578.19 L694.98,576.69 L695.10,575.19 L695.23,573.68 L695.35,572.18 L695.47,570.68 L695.58,569.18 L695.70,567.68 L695.81,566.17 L695.93,564.67 L696.04,563.17 L696.15,561.67 L696.26,560.16 L696.37,558.66 L696.49,557.16 L696.60,555.66 L696.72,554.16 L696.84,552.65 L696.96,551.15 L697.09,549.65 L697.22,548.15 L697.35,546.65 L697.49,545.15 L697.63,543.65 L697.77,542.15 L697.92,540.65 L698.07,539.15 L698.22,537.66 L698.38,536.16 L698.53,534.66 L698.70,533.16 L698.86,531.66 L699.03,530.16 L699.21,528.67 L699.39,527.17 L699.57,525.68 L699.75,524.18 L699.95,522.69 L700.14,521.20 L700.34,519.70 L700.55,518.21 L700.76,516.72 L700.98,515.23 L701.21,513.74 L701.44,512.25 L701.68,510.76 L701.93,509.28 L702.18,507.79 L702.44,506.31 L702.71,504.82 L702.98,503.34 L703.25,501.86 L703.53,500.38 L703.82,498.90 L704.11,497.43 L704.42,495.95 L704.73,494.48 L705.05,493.00 L705.39,491.53 L705.73,490.06 L706.08,488.60 L706.44,487.13 L706.80,485.67 L707.18,484.22 L707.56,482.76 L707.96,481.31 L708.37,479.86 L708.80,478.42 L709.23,476.98 L709.68,475.54 L710.14,474.10 L710.60,472.66 L711.07,471.23 L711.55,469.80 L712.03,468.37 L712.52,466.95 L713.01,465.52 L713.50,464.10 L714.00,462.68 L714.51,461.26 L715.03,459.84 L715.55,458.43 L716.08,457.02 L716.63,455.61 L717.18,454.21 L717.74,452.81 L718.32,451.43 L718.91,450.04 L719.51,448.67 L720.13,447.29 L720.76,445.92 L721.41,444.56 L722.07,443.20 L722.74,441.85 L723.42,440.50 L724.12,439.17 L724.82,437.84 L725.53,436.51 L726.26,435.19 L727.00,433.87 L727.75,432.55 L728.53,431.25 L729.32,429.97 L730.15,428.72 L731.00,427.50 L731.90,426.30 L732.84,425.12 L733.81,423.96 L734.81,422.82 L735.84,421.71 L736.88,420.62 L737.94,419.56 L739.02,418.49 L740.12,417.45 L741.25,416.44 L742.42,415.48 L743.62,414.62 L744.88,413.81 L746.19,413.05 L747.53,412.33 L748.90,411.68 L750.28,411.09 L751.68,410.52 L753.11,410.01 L754.56,409.60 L756.02,409.30 L757.51,409.02 L759.02,408.84 L760.51,408.81 L762.02,408.90 L763.53,409.08 L765.01,409.30 L766.47,409.63 L767.91,410.13 L769.32,410.70 L770.67,411.31 L771.99,412.03 L773.28,412.83 L774.54,413.68 L775.78,414.55 L777.01,415.42 L778.22,416.32 L779.42,417.26 L780.58,418.23 L781.70,419.23 L782.77,420.27 L783.79,421.35 L784.78,422.49 L785.75,423.65 L786.68,424.85 L787.59,426.06 L788.48,427.28 L789.36,428.50 L790.21,429.74 L791.04,431.00 L791.86,432.26 L792.66,433.55 L793.44,434.84 L794.21,436.14 L794.96,437.44 L795.71,438.75 L796.45,440.06 L797.17,441.38 L797.89,442.71 L798.59,444.05 L799.28,445.39 L799.95,446.74 L800.61,448.09 L801.25,449.45 L801.87,450.82 L802.48,452.20 L803.08,453.58 L803.67,454.97 L804.25,456.36 L804.81,457.76 L805.36,459.17 L805.90,460.57 L806.43,461.99 L806.94,463.40 L807.44,464.82 L807.92,466.25 L808.40,467.67 L808.87,469.11 L809.32,470.54 L809.77,471.98 L810.20,473.43 L810.63,474.88 L811.04,476.33 L811.45,477.78 L811.84,479.23 L812.22,480.69 L812.59,482.15 L812.95,483.61 L813.31,485.07 L813.66,486.54 L814.00,488.00 L814.33,489.48 L814.65,490.95 L814.97,492.42 L815.28,493.90 L815.59,495.37 L815.88,496.85 L816.17,498.33 L816.45,499.81 L816.73,501.29 L817.00,502.77 L817.27,504.25 L817.53,505.73 L817.79,507.22 L818.04,508.70 L818.28,510.19 L818.53,511.68 L818.76,513.17 L819.00,514.66 L819.23,516.15 L819.45,517.64 L819.67,519.12 L819.89,520.61 L820.10,522.11 L820.31,523.60 L820.52,525.09 L820.73,526.58 L820.93,528.07 L821.12,529.57 L821.32,531.06 L821.51,532.56 L821.69,534.05 L821.88,535.55 L822.05,537.04 L822.23,538.54 L822.39,540.04 L822.56,541.53 L822.72,543.03 L822.87,544.53 L823.03,546.03 L823.17,547.53 L823.32,549.03 L823.46,550.53 L823.60,552.03 L823.74,553.53 L823.87,555.03 L824.00,556.53 L824.13,558.03 L824.26,559.53 L824.38,561.03 L824.50,562.53 L824.62,564.04 L824.73,565.54 L824.84,567.04 L824.95,568.54 L825.06,570.05 L825.17,571.55 L825.28,573.05 L825.39,574.55 L825.50,576.05 L825.62,577.56 L825.73,579.06 L825.84,580.56 L825.94,582.07 L826.05,583.57 L826.17,585.07 L826.29,586.57 L826.42,588.07 L826.56,589.57 L826.70,591.07 L826.85,592.58 L827.01,594.09 L827.18,595.60 L827.39,597.09 L827.62,598.56 L827.92,600.02 L828.34,601.47 L828.90,602.90 L829.53,604.27 L830.24,605.57 L831.09,606.84 L832.06,608.02 L833.09,609.08 L834.25,610.10 L835.50,610.98 L836.82,611.63 L838.20,612.14 L839.66,612.55 L841.20,612.80 Z" fill="#cd6b21" stroke="#a9602a" stroke-width="0.6"/>
<line x1="680" y1="613.1" x2="841.2" y2="613.1" stroke="#8f8fe6" stroke-width="0.9"/>
<line x1="414" y1="692.2" x2="601" y2="638.9" stroke="#f03a3a" stroke-width="2.1"/>
<path d="M621.3,632.8 L598.2,634.6 L601.0,643.4 Z" fill="#f03a3a"/>
</svg>
</body></html>
